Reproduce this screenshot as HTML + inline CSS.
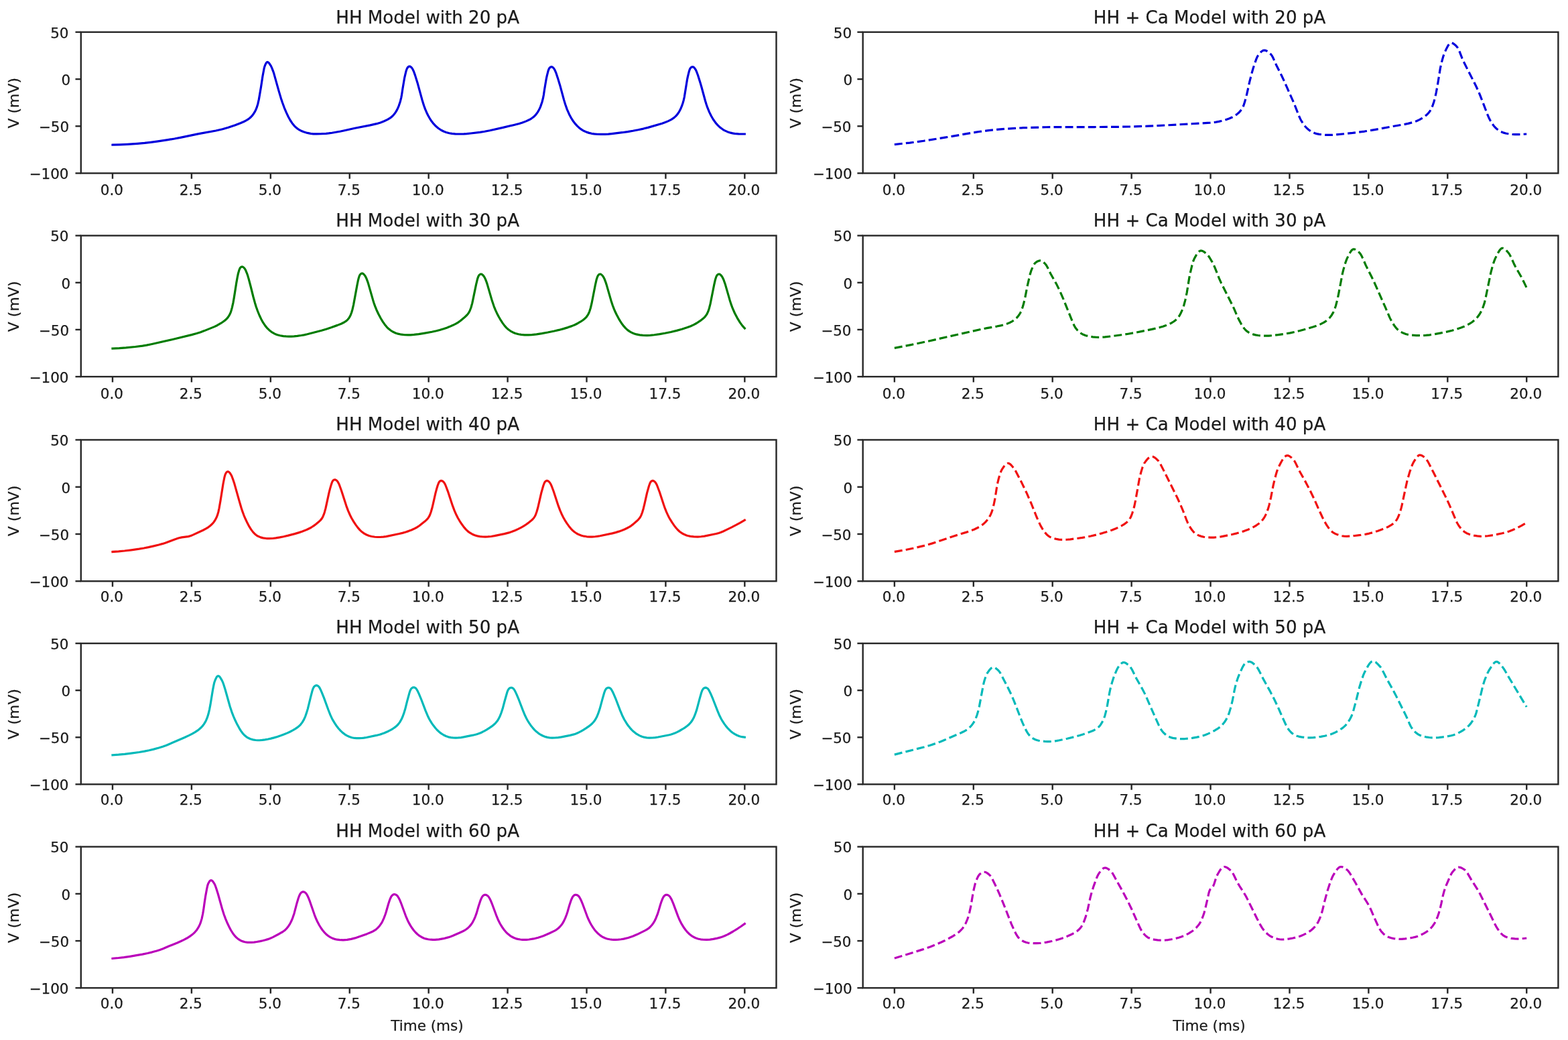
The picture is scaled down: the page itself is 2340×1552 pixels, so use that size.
<!DOCTYPE html><html><head><meta charset="utf-8"><style>html,body{margin:0;padding:0;background:#fff;}svg{display:block;}</style></head><body>
<svg xmlns="http://www.w3.org/2000/svg" width="2340" height="1552" viewBox="0 0 2340 1552" font-family="'DejaVu Sans', 'Liberation Sans', sans-serif" fill="#1a1a1a" stroke="#1a1a1a" stroke-width="0.25" >
<rect width="2340" height="1552" fill="#fff" stroke="none"/>
<path d="M167.97,216.22 L178.96,215.87 L189.95,215.31 L204.91,214.29 L215.87,213.36 L224.82,212.36 L235.72,210.90 L250.55,208.65 L260.41,206.99 L270.22,205.08 L296.65,199.57 L322.24,194.96 L332.00,192.78 L340.64,190.29 L351.05,186.75 L359.43,183.46 L364.00,181.45 L366.69,180.13 L369.28,178.65 L371.72,176.96 L373.98,175.03 L376.05,172.89 L377.91,170.56 L380.07,167.23 L381.46,164.59 L383.01,160.92 L384.78,155.20 L386.33,148.38 L389.52,129.65 L391.95,113.83 L394.14,102.04 L394.94,99.15 L396.43,95.44 L397.39,93.72 L398.01,93.04 L398.77,92.67 L399.59,92.72 L400.38,93.13 L401.10,93.78 L402.35,95.32 L404.49,98.69 L406.13,102.33 L407.55,106.07 L408.82,109.86 L416.10,135.86 L419.24,146.40 L421.42,153.06 L424.18,160.56 L427.27,167.94 L430.26,174.26 L433.16,179.50 L435.91,183.67 L439.02,187.55 L441.86,190.32 L443.40,191.57 L445.84,193.28 L449.31,195.21 L453.92,197.06 L458.72,198.42 L463.61,199.38 L467.57,199.79 L472.56,199.91 L479.56,199.72 L486.54,199.31 L490.52,198.94 L495.47,198.27 L508.27,195.99 L514.14,194.77 L529.74,191.20 L552.33,186.87 L562.07,184.66 L567.81,182.92 L573.40,180.77 L577.92,178.66 L582.18,176.12 L584.54,174.30 L586.00,172.96 L588.01,170.77 L589.80,168.40 L591.41,165.89 L592.84,163.27 L595.23,157.77 L597.42,151.13 L598.84,145.31 L599.57,141.37 L600.89,132.47 L603.37,117.68 L604.18,113.76 L606.07,105.99 L607.01,103.15 L607.90,101.37 L609.15,99.87 L609.94,99.35 L610.81,99.07 L611.71,99.11 L612.58,99.45 L614.09,100.68 L615.81,103.12 L617.51,106.73 L619.51,112.38 L623.36,124.80 L629.94,148.92 L632.59,157.52 L634.65,163.15 L636.61,167.74 L638.80,172.23 L641.24,176.59 L643.97,180.77 L647.03,184.70 L650.47,188.31 L654.26,191.53 L658.40,194.27 L661.96,196.04 L665.68,197.44 L670.50,198.72 L674.43,199.38 L679.40,199.83 L685.39,199.98 L692.38,199.85 L696.37,199.59 L702.34,198.98 L716.24,197.33 L723.16,196.29 L731.00,194.73 L750.52,190.36 L766.09,186.69 L774.81,184.49 L779.59,183.02 L785.18,180.88 L789.71,178.78 L793.16,176.79 L795.57,175.07 L797.08,173.78 L799.17,171.67 L801.04,169.35 L802.71,166.88 L804.20,164.30 L805.52,161.61 L806.69,158.86 L808.96,152.24 L810.46,146.43 L811.38,141.52 L812.55,133.61 L815.22,117.83 L816.05,113.92 L817.97,106.16 L818.98,103.34 L819.94,101.61 L820.57,100.86 L821.31,100.24 L822.15,99.83 L823.05,99.71 L823.94,99.92 L824.78,100.38 L825.53,101.00 L826.80,102.52 L828.30,105.11 L829.84,108.80 L832.36,116.39 L835.58,126.91 L841.61,149.10 L843.62,155.81 L846.30,163.34 L849.52,170.65 L851.84,175.07 L853.90,178.50 L856.14,181.80 L858.61,184.93 L861.31,187.86 L863.49,189.91 L866.59,192.40 L869.06,194.07 L871.66,195.53 L875.30,197.13 L879.08,198.38 L882.96,199.31 L886.90,199.91 L890.88,200.25 L896.87,200.42 L902.86,200.35 L907.85,200.06 L912.82,199.57 L928.71,197.71 L936.64,196.60 L944.52,195.27 L952.38,193.76 L960.20,192.07 L966.99,190.37 L988.09,184.19 L992.80,182.54 L997.41,180.62 L1001.85,178.36 L1005.18,176.20 L1008.19,173.63 L1009.55,172.19 L1011.42,169.88 L1013.61,166.56 L1015.48,163.04 L1017.43,158.45 L1019.05,153.72 L1020.15,149.88 L1021.25,145.00 L1025.59,118.36 L1026.40,114.44 L1028.29,106.67 L1029.23,103.83 L1030.11,102.05 L1031.36,100.55 L1032.15,100.02 L1033.03,99.74 L1033.93,99.77 L1034.80,100.11 L1036.31,101.33 L1038.04,103.76 L1039.37,106.44 L1041.44,112.07 L1045.05,123.52 L1046.74,129.27 L1052.52,150.50 L1054.29,156.23 L1055.94,160.95 L1058.59,167.42 L1061.23,172.80 L1064.24,177.98 L1067.68,182.88 L1069.59,185.18 L1071.64,187.36 L1073.81,189.41 L1076.12,191.31 L1078.54,193.04 L1081.10,194.58 L1085.61,196.65 L1090.35,198.17 L1093.27,198.84 L1096.22,199.33 L1102.17,199.86 L1111.33,200.00" fill="none" stroke="#0000dc" stroke-width="3.2" stroke-linejoin="round" stroke-linecap="square"/>
<rect x="120.80" y="47.90" width="1037.70" height="210.60" fill="none" stroke="#262626" stroke-width="2.4"/>
<line x1="112.50" y1="258.50" x2="120.80" y2="258.50" stroke="#262626" stroke-width="2.4"/>
<text x="102.50" y="267.30" font-size="21.5" text-anchor="end">−100</text>
<line x1="112.50" y1="188.30" x2="120.80" y2="188.30" stroke="#262626" stroke-width="2.4"/>
<text x="103.20" y="197.10" font-size="21.5" text-anchor="end">−50</text>
<line x1="112.50" y1="118.10" x2="120.80" y2="118.10" stroke="#262626" stroke-width="2.4"/>
<text x="105.10" y="126.90" font-size="21.5" text-anchor="end">0</text>
<line x1="112.50" y1="47.90" x2="120.80" y2="47.90" stroke="#262626" stroke-width="2.4"/>
<text x="102.50" y="56.70" font-size="21.5" text-anchor="end">50</text>
<line x1="167.97" y1="258.50" x2="167.97" y2="266.80" stroke="#262626" stroke-width="2.4"/>
<text x="166.97" y="290.50" font-size="21.5" text-anchor="middle">0.0</text>
<line x1="285.89" y1="258.50" x2="285.89" y2="266.80" stroke="#262626" stroke-width="2.4"/>
<text x="284.89" y="290.50" font-size="21.5" text-anchor="middle">2.5</text>
<line x1="403.81" y1="258.50" x2="403.81" y2="266.80" stroke="#262626" stroke-width="2.4"/>
<text x="402.81" y="290.50" font-size="21.5" text-anchor="middle">5.0</text>
<line x1="521.73" y1="258.50" x2="521.73" y2="266.80" stroke="#262626" stroke-width="2.4"/>
<text x="520.73" y="290.50" font-size="21.5" text-anchor="middle">7.5</text>
<line x1="639.65" y1="258.50" x2="639.65" y2="266.80" stroke="#262626" stroke-width="2.4"/>
<text x="638.65" y="290.50" font-size="21.5" text-anchor="middle">10.0</text>
<line x1="757.57" y1="258.50" x2="757.57" y2="266.80" stroke="#262626" stroke-width="2.4"/>
<text x="756.57" y="290.50" font-size="21.5" text-anchor="middle">12.5</text>
<line x1="875.49" y1="258.50" x2="875.49" y2="266.80" stroke="#262626" stroke-width="2.4"/>
<text x="874.49" y="290.50" font-size="21.5" text-anchor="middle">15.0</text>
<line x1="993.41" y1="258.50" x2="993.41" y2="266.80" stroke="#262626" stroke-width="2.4"/>
<text x="992.41" y="290.50" font-size="21.5" text-anchor="middle">17.5</text>
<line x1="1111.33" y1="258.50" x2="1111.33" y2="266.80" stroke="#262626" stroke-width="2.4"/>
<text x="1110.33" y="290.50" font-size="21.5" text-anchor="middle">20.0</text>
<text transform="translate(27.70,153.70) rotate(-90)" font-size="22.0" text-anchor="middle">V (mV)</text>
<text x="638.15" y="34.70" font-size="26.1" text-anchor="middle">HH Model with 20 pA</text>
<path d="M1334.87,215.56 L1357.73,213.04 L1378.54,210.24 L1410.14,205.19 L1455.48,197.42 L1464.37,196.04 L1473.30,194.90 L1483.24,193.79 L1501.17,192.23 L1515.14,191.33 L1527.12,190.72 L1561.11,189.75 L1576.11,189.57 L1633.11,189.54 L1669.10,189.32 L1688.10,188.96 L1714.09,188.15 L1739.06,186.98 L1805.95,183.16 L1810.93,182.70 L1814.88,182.16 L1818.81,181.43 L1822.70,180.52 L1828.48,178.90 L1834.15,176.97 L1838.72,174.99 L1842.22,173.08 L1845.53,170.87 L1848.56,168.31 L1851.25,165.40 L1853.55,162.17 L1854.54,160.45 L1855.78,157.74 L1857.64,152.05 L1860.73,140.45 L1864.83,121.90 L1868.04,109.30 L1870.54,100.66 L1874.75,88.36 L1875.90,85.59 L1877.32,82.96 L1878.49,81.34 L1880.41,79.04 L1882.53,76.93 L1884.15,75.78 L1885.04,75.36 L1885.98,75.11 L1886.94,75.03 L1887.92,75.14 L1889.79,75.76 L1891.51,76.75 L1893.12,77.93 L1895.38,79.91 L1896.79,81.32 L1898.02,82.88 L1899.51,85.48 L1905.25,98.24 L1912.45,112.53 L1916.70,121.58 L1931.67,155.42 L1938.93,174.05 L1940.63,177.66 L1942.56,181.15 L1945.85,186.15 L1947.69,188.50 L1949.69,190.71 L1951.13,192.08 L1953.43,193.96 L1955.89,195.65 L1958.47,197.14 L1962.10,198.74 L1964.94,199.60 L1968.84,200.38 L1972.80,200.89 L1977.78,201.30 L1982.77,201.47 L1987.76,201.38 L1993.75,201.01 L2018.61,198.39 L2036.45,196.04 L2051.26,193.60 L2077.81,188.70 L2093.57,185.96 L2101.41,184.39 L2108.18,182.65 L2113.84,180.70 L2118.37,178.62 L2123.55,175.62 L2126.01,173.92 L2128.34,172.06 L2130.51,170.02 L2131.85,168.56 L2133.67,166.21 L2134.76,164.55 L2136.60,161.03 L2138.10,157.33 L2139.97,151.64 L2141.84,144.89 L2143.27,138.04 L2145.78,124.27 L2149.45,101.56 L2151.46,92.79 L2153.57,85.08 L2154.81,81.27 L2156.28,77.55 L2158.86,72.14 L2160.74,68.61 L2161.80,66.92 L2163.04,65.37 L2163.77,64.72 L2164.59,64.24 L2165.50,64.00 L2166.45,64.02 L2168.29,64.65 L2170.74,66.36 L2172.21,67.71 L2174.28,69.88 L2175.47,71.47 L2176.46,73.20 L2178.10,76.85 L2182.08,87.10 L2184.13,91.66 L2188.56,100.63 L2201.75,126.45 L2205.61,134.58 L2209.07,142.89 L2214.87,157.80 L2219.44,169.97 L2221.78,175.49 L2223.58,179.05 L2225.59,182.50 L2227.80,185.82 L2229.61,188.19 L2231.59,190.41 L2233.03,191.78 L2234.55,193.04 L2236.99,194.74 L2239.58,196.22 L2242.28,197.46 L2244.14,198.14 L2247.01,198.95 L2249.94,199.52 L2252.90,199.93 L2256.88,200.32 L2260.87,200.54 L2268.86,200.55 L2278.23,200.00" fill="none" stroke="#0000dc" stroke-width="3.2" stroke-linejoin="round" stroke-linecap="butt" stroke-dasharray="11.9 5.2"/>
<rect x="1287.70" y="47.90" width="1037.70" height="210.60" fill="none" stroke="#262626" stroke-width="2.4"/>
<line x1="1279.40" y1="258.50" x2="1287.70" y2="258.50" stroke="#262626" stroke-width="2.4"/>
<text x="1271.70" y="267.30" font-size="21.5" text-anchor="end">−100</text>
<line x1="1279.40" y1="188.30" x2="1287.70" y2="188.30" stroke="#262626" stroke-width="2.4"/>
<text x="1270.50" y="197.10" font-size="21.5" text-anchor="end">−50</text>
<line x1="1279.40" y1="118.10" x2="1287.70" y2="118.10" stroke="#262626" stroke-width="2.4"/>
<text x="1272.30" y="126.90" font-size="21.5" text-anchor="end">0</text>
<line x1="1279.40" y1="47.90" x2="1287.70" y2="47.90" stroke="#262626" stroke-width="2.4"/>
<text x="1271.20" y="56.70" font-size="21.5" text-anchor="end">50</text>
<line x1="1334.87" y1="258.50" x2="1334.87" y2="266.80" stroke="#262626" stroke-width="2.4"/>
<text x="1333.87" y="290.50" font-size="21.5" text-anchor="middle">0.0</text>
<line x1="1452.79" y1="258.50" x2="1452.79" y2="266.80" stroke="#262626" stroke-width="2.4"/>
<text x="1451.79" y="290.50" font-size="21.5" text-anchor="middle">2.5</text>
<line x1="1570.71" y1="258.50" x2="1570.71" y2="266.80" stroke="#262626" stroke-width="2.4"/>
<text x="1569.71" y="290.50" font-size="21.5" text-anchor="middle">5.0</text>
<line x1="1688.63" y1="258.50" x2="1688.63" y2="266.80" stroke="#262626" stroke-width="2.4"/>
<text x="1687.63" y="290.50" font-size="21.5" text-anchor="middle">7.5</text>
<line x1="1806.55" y1="258.50" x2="1806.55" y2="266.80" stroke="#262626" stroke-width="2.4"/>
<text x="1805.55" y="290.50" font-size="21.5" text-anchor="middle">10.0</text>
<line x1="1924.47" y1="258.50" x2="1924.47" y2="266.80" stroke="#262626" stroke-width="2.4"/>
<text x="1923.47" y="290.50" font-size="21.5" text-anchor="middle">12.5</text>
<line x1="2042.39" y1="258.50" x2="2042.39" y2="266.80" stroke="#262626" stroke-width="2.4"/>
<text x="2041.39" y="290.50" font-size="21.5" text-anchor="middle">15.0</text>
<line x1="2160.31" y1="258.50" x2="2160.31" y2="266.80" stroke="#262626" stroke-width="2.4"/>
<text x="2159.31" y="290.50" font-size="21.5" text-anchor="middle">17.5</text>
<line x1="2278.23" y1="258.50" x2="2278.23" y2="266.80" stroke="#262626" stroke-width="2.4"/>
<text x="2277.23" y="290.50" font-size="21.5" text-anchor="middle">20.0</text>
<text transform="translate(1195.40,153.70) rotate(-90)" font-size="22.0" text-anchor="middle">V (mV)</text>
<text x="1805.05" y="34.70" font-size="26.1" text-anchor="middle">HH + Ca Model with 20 pA</text>
<path d="M167.97,520.00 L177.96,519.60 L187.93,518.88 L201.86,517.47 L212.77,516.09 L218.69,515.10 L225.55,513.72 L258.73,506.30 L285.91,499.60 L293.63,497.48 L299.35,495.69 L304.98,493.62 L319.81,487.63 L324.31,485.47 L329.49,482.47 L332.81,480.25 L335.21,478.47 L337.46,476.52 L338.85,475.11 L340.12,473.60 L341.79,471.16 L343.20,468.55 L344.34,465.80 L345.27,462.95 L346.31,459.09 L348.04,451.28 L349.27,444.39 L352.67,422.66 L354.46,412.82 L355.49,407.93 L356.89,403.13 L358.01,400.37 L358.54,399.55 L359.21,398.86 L360.02,398.36 L360.91,398.09 L361.82,398.11 L362.68,398.45 L363.47,399.01 L364.83,400.44 L366.43,402.96 L368.38,407.56 L369.72,411.33 L371.12,416.12 L373.93,426.76 L378.05,443.25 L380.44,451.93 L382.21,457.66 L384.54,464.26 L387.19,470.74 L389.75,476.16 L392.64,481.40 L396.00,486.35 L399.21,490.16 L402.83,493.56 L406.03,495.92 L409.48,497.88 L411.29,498.70 L414.08,499.73 L417.92,500.77 L422.84,501.59 L426.81,501.94 L430.81,502.10 L434.80,502.09 L438.79,501.88 L443.76,501.38 L449.70,500.54 L453.63,499.83 L458.51,498.75 L479.80,493.21 L487.47,490.93 L494.12,488.75 L503.53,485.38 L509.11,483.20 L513.58,481.02 L516.86,478.82 L519.01,476.83 L520.27,475.33 L521.37,473.70 L523.19,470.19 L524.61,466.48 L526.00,461.68 L527.57,454.86 L532.81,426.34 L534.18,419.48 L535.11,415.59 L536.33,411.78 L537.24,410.03 L538.56,408.60 L539.38,408.13 L540.25,407.94 L541.14,408.10 L541.98,408.53 L543.46,409.83 L545.21,412.25 L546.98,415.82 L548.39,419.57 L549.65,423.36 L556.53,447.40 L558.02,452.17 L559.67,456.89 L561.91,462.45 L564.87,468.79 L568.18,474.96 L571.29,480.08 L574.12,484.19 L577.29,488.03 L580.13,490.81 L583.26,493.25 L586.66,495.31 L590.27,496.95 L594.05,498.19 L598.92,499.21 L603.88,499.73 L608.87,499.90 L612.86,499.83 L617.84,499.45 L624.78,498.57 L632.68,497.32 L644.49,495.20 L651.34,493.75 L656.18,492.52 L661.92,490.80 L666.65,489.17 L671.30,487.35 L675.87,485.33 L680.34,483.10 L683.77,481.07 L687.04,478.79 L692.44,474.35 L696.77,470.25 L698.06,468.76 L699.23,467.17 L701.13,463.70 L702.92,459.05 L704.78,452.31 L710.47,424.90 L712.57,416.15 L713.92,412.39 L714.95,410.71 L715.62,410.01 L716.40,409.44 L717.26,409.10 L718.16,409.06 L719.04,409.35 L719.86,409.86 L721.29,411.22 L722.99,413.68 L724.33,416.36 L725.79,420.08 L727.08,423.87 L734.33,448.83 L737.21,457.36 L739.47,462.91 L741.57,467.45 L744.33,472.77 L747.35,477.95 L750.07,482.14 L753.06,486.13 L755.73,489.08 L758.68,491.75 L761.91,494.05 L765.40,495.95 L769.08,497.44 L773.88,498.75 L777.80,499.40 L782.78,499.80 L788.77,499.89 L793.75,499.62 L800.70,498.82 L808.61,497.64 L817.47,496.04 L827.26,494.02 L834.08,492.43 L840.84,490.64 L847.54,488.61 L853.20,486.63 L857.81,484.71 L862.28,482.49 L866.59,479.97 L869.89,477.73 L872.97,475.23 L874.37,473.84 L875.65,472.35 L877.80,469.05 L878.68,467.28 L879.80,464.51 L881.30,459.75 L882.96,452.95 L888.12,426.45 L890.31,416.70 L891.57,412.91 L892.48,411.15 L893.81,409.73 L894.62,409.25 L895.50,409.05 L896.40,409.18 L897.24,409.60 L898.74,410.87 L900.50,413.27 L902.29,416.84 L903.71,420.58 L904.98,424.37 L911.89,448.40 L914.37,456.01 L916.15,460.68 L918.12,465.27 L920.29,469.77 L923.12,475.06 L925.68,479.35 L928.43,483.51 L930.84,486.69 L933.49,489.66 L936.43,492.33 L939.65,494.65 L942.24,496.13 L945.87,497.73 L949.66,498.93 L954.54,499.93 L959.50,500.41 L965.49,500.57 L970.48,500.37 L976.44,499.74 L984.36,498.63 L992.24,497.25 L1001.05,495.45 L1009.81,493.39 L1017.53,491.27 L1025.14,488.82 L1030.75,486.70 L1035.29,484.64 L1039.66,482.23 L1044.68,478.96 L1049.41,475.30 L1052.22,472.53 L1054.55,469.36 L1055.51,467.63 L1056.73,464.92 L1058.34,460.19 L1060.07,453.42 L1065.51,425.95 L1067.49,417.17 L1068.70,413.36 L1069.53,411.56 L1070.76,410.04 L1071.53,409.46 L1072.38,409.11 L1073.28,409.07 L1074.15,409.35 L1074.97,409.87 L1076.40,411.23 L1078.09,413.69 L1079.82,417.29 L1082.47,424.84 L1089.11,447.90 L1090.91,453.62 L1093.34,460.19 L1096.57,467.50 L1100.28,474.58 L1104.44,481.40 L1107.92,486.16 L1111.33,489.91" fill="none" stroke="#007c00" stroke-width="3.2" stroke-linejoin="round" stroke-linecap="square"/>
<rect x="120.80" y="351.60" width="1037.70" height="210.50" fill="none" stroke="#262626" stroke-width="2.4"/>
<line x1="112.50" y1="562.10" x2="120.80" y2="562.10" stroke="#262626" stroke-width="2.4"/>
<text x="102.50" y="570.90" font-size="21.5" text-anchor="end">−100</text>
<line x1="112.50" y1="491.93" x2="120.80" y2="491.93" stroke="#262626" stroke-width="2.4"/>
<text x="103.20" y="500.73" font-size="21.5" text-anchor="end">−50</text>
<line x1="112.50" y1="421.77" x2="120.80" y2="421.77" stroke="#262626" stroke-width="2.4"/>
<text x="105.10" y="430.57" font-size="21.5" text-anchor="end">0</text>
<line x1="112.50" y1="351.60" x2="120.80" y2="351.60" stroke="#262626" stroke-width="2.4"/>
<text x="102.50" y="360.40" font-size="21.5" text-anchor="end">50</text>
<line x1="167.97" y1="562.10" x2="167.97" y2="570.40" stroke="#262626" stroke-width="2.4"/>
<text x="166.97" y="594.50" font-size="21.5" text-anchor="middle">0.0</text>
<line x1="285.89" y1="562.10" x2="285.89" y2="570.40" stroke="#262626" stroke-width="2.4"/>
<text x="284.89" y="594.50" font-size="21.5" text-anchor="middle">2.5</text>
<line x1="403.81" y1="562.10" x2="403.81" y2="570.40" stroke="#262626" stroke-width="2.4"/>
<text x="402.81" y="594.50" font-size="21.5" text-anchor="middle">5.0</text>
<line x1="521.73" y1="562.10" x2="521.73" y2="570.40" stroke="#262626" stroke-width="2.4"/>
<text x="520.73" y="594.50" font-size="21.5" text-anchor="middle">7.5</text>
<line x1="639.65" y1="562.10" x2="639.65" y2="570.40" stroke="#262626" stroke-width="2.4"/>
<text x="638.65" y="594.50" font-size="21.5" text-anchor="middle">10.0</text>
<line x1="757.57" y1="562.10" x2="757.57" y2="570.40" stroke="#262626" stroke-width="2.4"/>
<text x="756.57" y="594.50" font-size="21.5" text-anchor="middle">12.5</text>
<line x1="875.49" y1="562.10" x2="875.49" y2="570.40" stroke="#262626" stroke-width="2.4"/>
<text x="874.49" y="594.50" font-size="21.5" text-anchor="middle">15.0</text>
<line x1="993.41" y1="562.10" x2="993.41" y2="570.40" stroke="#262626" stroke-width="2.4"/>
<text x="992.41" y="594.50" font-size="21.5" text-anchor="middle">17.5</text>
<line x1="1111.33" y1="562.10" x2="1111.33" y2="570.40" stroke="#262626" stroke-width="2.4"/>
<text x="1110.33" y="594.50" font-size="21.5" text-anchor="middle">20.0</text>
<text transform="translate(27.70,457.35) rotate(-90)" font-size="22.0" text-anchor="middle">V (mV)</text>
<text x="638.15" y="337.90" font-size="26.1" text-anchor="middle">HH Model with 30 pA</text>
<path d="M1334.87,519.44 L1359.40,514.61 L1383.86,509.48 L1464.82,491.20 L1472.67,489.63 L1487.44,487.05 L1493.32,485.85 L1498.17,484.64 L1502.92,483.13 L1507.51,481.20 L1511.00,479.29 L1513.48,477.63 L1515.79,475.75 L1517.22,474.38 L1519.18,472.15 L1520.95,469.75 L1522.52,467.22 L1523.88,464.56 L1525.02,461.80 L1526.83,456.09 L1529.34,446.41 L1532.98,427.76 L1536.97,410.21 L1538.69,404.47 L1541.37,398.00 L1543.24,394.47 L1544.41,392.86 L1545.10,392.16 L1546.69,390.97 L1548.43,390.00 L1550.28,389.26 L1552.21,388.91 L1553.19,388.97 L1554.13,389.21 L1555.87,390.13 L1557.42,391.38 L1558.87,392.76 L1560.23,394.22 L1561.43,395.81 L1563.38,399.29 L1567.76,408.28 L1577.08,424.84 L1581.49,433.81 L1587.07,446.65 L1601.59,482.84 L1603.32,486.43 L1605.40,489.80 L1607.91,492.86 L1610.79,495.59 L1613.98,497.92 L1616.59,499.32 L1620.29,500.71 L1625.13,501.88 L1631.04,502.83 L1636.01,503.25 L1642.00,503.30 L1648.98,502.87 L1656.93,501.98 L1673.78,499.73 L1683.67,498.21 L1693.51,496.48 L1704.31,494.39 L1719.00,491.36 L1725.83,489.82 L1730.68,488.59 L1735.47,487.18 L1740.19,485.55 L1744.81,483.65 L1748.37,481.85 L1751.75,479.76 L1754.13,477.97 L1756.32,475.97 L1757.65,474.51 L1759.42,472.13 L1760.97,469.59 L1762.35,466.93 L1763.98,463.29 L1765.45,459.57 L1766.73,455.78 L1768.76,448.05 L1771.28,436.32 L1774.62,415.59 L1775.74,409.69 L1778.65,397.02 L1779.68,393.16 L1780.89,389.35 L1782.02,386.57 L1783.40,383.91 L1785.38,380.44 L1787.03,377.94 L1788.28,376.38 L1789.73,375.03 L1790.56,374.52 L1791.46,374.18 L1792.41,374.06 L1793.37,374.16 L1794.31,374.44 L1796.08,375.34 L1798.47,377.14 L1802.14,380.52 L1803.44,382.04 L1805.17,384.49 L1809.23,391.38 L1811.08,394.92 L1812.73,398.57 L1819.34,415.31 L1822.60,422.61 L1839.70,456.54 L1841.82,461.07 L1846.55,472.10 L1848.65,476.63 L1851.96,482.79 L1855.11,487.88 L1856.86,490.29 L1858.82,492.51 L1861.05,494.44 L1863.51,496.06 L1866.16,497.42 L1869.86,498.86 L1873.70,499.88 L1877.63,500.51 L1882.60,500.94 L1888.59,501.14 L1893.59,501.05 L1899.57,500.63 L1907.51,499.67 L1918.39,498.04 L1925.28,496.83 L1932.13,495.41 L1939.91,493.53 L1948.59,491.16 L1959.12,488.00 L1965.75,485.75 L1970.37,483.87 L1974.85,481.67 L1978.24,479.60 L1981.38,477.17 L1984.19,474.37 L1987.21,470.43 L1989.77,466.16 L1990.64,464.37 L1991.76,461.60 L1993.56,455.88 L1996.06,446.20 L1997.48,439.35 L2003.51,407.92 L2004.92,402.09 L2007.12,394.40 L2008.36,390.59 L2009.77,386.85 L2011.01,384.12 L2013.76,378.79 L2015.25,376.19 L2016.97,373.75 L2018.42,372.43 L2019.28,372.03 L2020.21,371.86 L2021.17,371.94 L2022.11,372.20 L2023.88,373.08 L2025.51,374.23 L2027.77,376.19 L2029.18,377.61 L2030.41,379.18 L2031.92,381.76 L2033.65,385.37 L2038.47,396.35 L2047.03,413.32 L2051.34,422.34 L2067.53,458.92 L2073.82,473.62 L2076.05,478.09 L2079.08,483.26 L2081.30,486.58 L2083.75,489.71 L2085.81,491.84 L2088.11,493.70 L2090.61,495.31 L2094.15,497.09 L2097.87,498.48 L2100.75,499.24 L2105.67,500.00 L2113.64,500.56 L2120.64,500.71 L2127.63,500.42 L2133.59,499.80 L2139.52,498.91 L2149.35,497.10 L2160.13,494.91 L2166.94,493.28 L2173.67,491.36 L2180.29,489.10 L2185.85,486.86 L2190.35,484.71 L2193.81,482.73 L2197.10,480.48 L2200.94,477.31 L2203.08,475.22 L2205.08,473.00 L2208.01,468.99 L2209.52,466.41 L2210.87,463.74 L2213.57,457.29 L2215.18,452.56 L2216.63,446.74 L2224.89,406.58 L2226.68,399.82 L2228.67,393.11 L2229.95,389.32 L2231.43,385.60 L2235.50,377.58 L2237.00,374.98 L2238.72,372.53 L2240.13,371.15 L2240.95,370.65 L2241.85,370.37 L2242.80,370.34 L2243.73,370.56 L2245.46,371.49 L2246.99,372.76 L2249.07,374.91 L2251.04,377.18 L2252.77,379.62 L2255.08,384.05 L2259.15,393.18 L2260.89,396.78 L2270.27,413.30 L2274.36,421.32 L2278.23,429.44" fill="none" stroke="#007c00" stroke-width="3.2" stroke-linejoin="round" stroke-linecap="butt" stroke-dasharray="11.9 5.2"/>
<rect x="1287.70" y="351.60" width="1037.70" height="210.50" fill="none" stroke="#262626" stroke-width="2.4"/>
<line x1="1279.40" y1="562.10" x2="1287.70" y2="562.10" stroke="#262626" stroke-width="2.4"/>
<text x="1271.70" y="570.90" font-size="21.5" text-anchor="end">−100</text>
<line x1="1279.40" y1="491.93" x2="1287.70" y2="491.93" stroke="#262626" stroke-width="2.4"/>
<text x="1270.50" y="500.73" font-size="21.5" text-anchor="end">−50</text>
<line x1="1279.40" y1="421.77" x2="1287.70" y2="421.77" stroke="#262626" stroke-width="2.4"/>
<text x="1272.30" y="430.57" font-size="21.5" text-anchor="end">0</text>
<line x1="1279.40" y1="351.60" x2="1287.70" y2="351.60" stroke="#262626" stroke-width="2.4"/>
<text x="1271.20" y="360.40" font-size="21.5" text-anchor="end">50</text>
<line x1="1334.87" y1="562.10" x2="1334.87" y2="570.40" stroke="#262626" stroke-width="2.4"/>
<text x="1333.87" y="594.50" font-size="21.5" text-anchor="middle">0.0</text>
<line x1="1452.79" y1="562.10" x2="1452.79" y2="570.40" stroke="#262626" stroke-width="2.4"/>
<text x="1451.79" y="594.50" font-size="21.5" text-anchor="middle">2.5</text>
<line x1="1570.71" y1="562.10" x2="1570.71" y2="570.40" stroke="#262626" stroke-width="2.4"/>
<text x="1569.71" y="594.50" font-size="21.5" text-anchor="middle">5.0</text>
<line x1="1688.63" y1="562.10" x2="1688.63" y2="570.40" stroke="#262626" stroke-width="2.4"/>
<text x="1687.63" y="594.50" font-size="21.5" text-anchor="middle">7.5</text>
<line x1="1806.55" y1="562.10" x2="1806.55" y2="570.40" stroke="#262626" stroke-width="2.4"/>
<text x="1805.55" y="594.50" font-size="21.5" text-anchor="middle">10.0</text>
<line x1="1924.47" y1="562.10" x2="1924.47" y2="570.40" stroke="#262626" stroke-width="2.4"/>
<text x="1923.47" y="594.50" font-size="21.5" text-anchor="middle">12.5</text>
<line x1="2042.39" y1="562.10" x2="2042.39" y2="570.40" stroke="#262626" stroke-width="2.4"/>
<text x="2041.39" y="594.50" font-size="21.5" text-anchor="middle">15.0</text>
<line x1="2160.31" y1="562.10" x2="2160.31" y2="570.40" stroke="#262626" stroke-width="2.4"/>
<text x="2159.31" y="594.50" font-size="21.5" text-anchor="middle">17.5</text>
<line x1="2278.23" y1="562.10" x2="2278.23" y2="570.40" stroke="#262626" stroke-width="2.4"/>
<text x="2277.23" y="594.50" font-size="21.5" text-anchor="middle">20.0</text>
<text transform="translate(1195.40,457.35) rotate(-90)" font-size="22.0" text-anchor="middle">V (mV)</text>
<text x="1805.05" y="337.90" font-size="26.1" text-anchor="middle">HH + Ca Model with 30 pA</text>
<path d="M167.97,823.44 L176.95,822.84 L185.91,821.99 L195.84,820.81 L207.72,819.15 L214.63,818.02 L221.49,816.67 L228.32,815.13 L237.06,812.98 L242.85,811.41 L246.66,810.22 L260.68,804.90 L266.37,803.02 L271.22,801.91 L281.07,800.59 L284.86,799.52 L287.61,798.38 L303.02,791.26 L307.43,788.93 L310.81,786.80 L313.20,785.02 L315.45,783.07 L317.52,780.93 L318.79,779.40 L320.50,776.97 L322.01,774.39 L323.31,771.71 L324.40,768.92 L325.84,764.15 L327.08,758.28 L328.98,747.45 L333.05,721.77 L334.80,712.94 L335.79,709.07 L336.49,707.21 L337.49,705.50 L338.11,704.73 L338.83,704.11 L339.64,703.74 L340.50,703.75 L341.32,704.11 L342.73,705.45 L343.92,707.05 L344.98,708.74 L346.24,711.45 L347.95,716.15 L349.83,721.85 L356.87,746.88 L359.97,757.43 L361.80,763.14 L363.89,768.77 L366.22,774.29 L369.21,780.62 L372.04,785.91 L374.69,790.13 L377.69,794.10 L380.43,796.96 L382.74,798.80 L385.27,800.33 L388.90,801.87 L392.73,802.86 L397.66,803.53 L401.65,803.71 L406.63,803.51 L411.58,802.90 L417.49,801.90 L423.38,800.74 L430.19,799.15 L439.86,796.60 L446.58,794.62 L451.31,793.03 L455.05,791.61 L458.71,790.02 L462.29,788.25 L464.89,786.77 L468.24,784.60 L471.45,782.22 L475.32,779.08 L478.20,776.37 L480.08,774.11 L481.60,771.59 L483.17,767.95 L484.42,764.15 L485.99,758.37 L491.11,734.92 L492.60,729.11 L494.26,723.34 L495.60,719.58 L496.50,717.82 L497.11,717.06 L497.84,716.42 L498.68,715.98 L499.57,715.80 L500.48,715.94 L501.35,716.34 L502.88,717.57 L504.13,719.11 L505.59,721.72 L507.09,725.43 L509.47,732.01 L516.81,754.86 L519.61,762.35 L522.43,768.75 L524.69,773.21 L527.72,778.38 L531.01,783.39 L533.98,787.40 L537.27,791.14 L540.20,793.82 L543.43,796.12 L546.92,798.01 L550.61,799.48 L554.44,800.53 L559.36,801.27 L563.34,801.51 L567.33,801.49 L572.31,801.14 L576.27,800.61 L595.84,796.55 L600.69,795.35 L605.49,793.95 L610.22,792.36 L613.95,790.92 L617.61,789.33 L621.16,787.51 L623.72,785.96 L626.18,784.26 L634.01,778.06 L636.93,775.40 L638.88,773.20 L640.47,770.72 L641.72,768.03 L643.08,764.28 L644.75,758.52 L646.40,751.72 L649.88,736.10 L651.42,730.30 L653.15,724.56 L654.56,720.82 L655.52,719.10 L656.18,718.38 L656.95,717.81 L657.82,717.44 L658.73,717.36 L659.63,717.58 L660.48,718.03 L661.99,719.30 L663.21,720.87 L664.65,723.49 L668.23,732.82 L675.42,754.67 L678.23,762.16 L681.08,768.55 L683.35,773.00 L685.87,777.31 L689.17,782.32 L692.12,786.34 L695.36,790.12 L698.24,792.86 L701.42,795.23 L704.87,797.20 L708.53,798.75 L712.33,799.89 L716.24,800.61 L720.21,800.98 L724.20,801.09 L728.19,800.96 L733.16,800.48 L738.08,799.66 L752.77,796.64 L759.53,794.89 L764.26,793.28 L768.90,791.42 L773.45,789.37 L777.92,787.12 L781.39,785.16 L784.75,783.00 L788.00,780.67 L791.93,777.60 L794.87,774.96 L796.81,772.75 L798.36,770.25 L799.60,767.55 L800.95,763.80 L802.61,758.03 L807.76,735.62 L810.75,725.04 L812.13,721.28 L813.01,719.51 L813.60,718.73 L814.32,718.08 L815.14,717.59 L816.03,717.36 L816.95,717.43 L817.83,717.78 L819.41,718.94 L820.70,720.45 L822.21,723.03 L823.74,726.72 L826.17,733.28 L833.35,755.13 L835.81,761.68 L838.21,767.18 L840.41,771.67 L842.86,776.02 L846.09,781.07 L848.98,785.14 L852.12,789.01 L854.90,791.86 L857.17,793.79 L860.45,796.01 L863.99,797.82 L867.71,799.22 L871.55,800.20 L875.49,800.78 L879.47,801.05 L883.46,801.07 L888.45,800.76 L891.42,800.42 L895.36,799.76 L913.95,795.88 L918.78,794.61 L923.55,793.14 L928.26,791.45 L931.96,789.94 L935.58,788.27 L939.10,786.39 L941.62,784.79 L944.79,782.38 L950.06,777.80 L952.89,775.04 L954.77,772.78 L955.82,771.12 L956.71,769.36 L958.51,764.72 L960.20,758.96 L961.86,752.16 L965.57,735.57 L968.56,724.99 L969.93,721.24 L970.82,719.47 L971.42,718.70 L972.14,718.05 L972.97,717.58 L973.86,717.36 L974.78,717.44 L975.66,717.80 L977.22,718.98 L977.90,719.71 L979.05,721.33 L980.42,723.99 L984.30,734.28 L990.51,753.29 L992.50,758.95 L994.39,763.58 L996.44,768.14 L998.21,771.72 L1000.16,775.21 L1002.79,779.45 L1006.20,784.39 L1008.64,787.54 L1011.29,790.51 L1014.21,793.21 L1016.60,794.98 L1019.14,796.53 L1021.82,797.85 L1024.59,798.93 L1026.49,799.52 L1030.37,800.39 L1035.31,800.95 L1041.30,801.07 L1046.28,800.76 L1051.23,800.11 L1068.84,796.50 L1072.69,795.45 L1075.52,794.47 L1079.21,792.94 L1084.64,790.41 L1091.83,786.90 L1098.05,783.69 L1104.17,780.31 L1111.33,776.11" fill="none" stroke="#f01010" stroke-width="3.2" stroke-linejoin="round" stroke-linecap="square"/>
<rect x="120.80" y="656.40" width="1037.70" height="210.90" fill="none" stroke="#262626" stroke-width="2.4"/>
<line x1="112.50" y1="867.30" x2="120.80" y2="867.30" stroke="#262626" stroke-width="2.4"/>
<text x="102.50" y="876.10" font-size="21.5" text-anchor="end">−100</text>
<line x1="112.50" y1="797.00" x2="120.80" y2="797.00" stroke="#262626" stroke-width="2.4"/>
<text x="103.20" y="805.80" font-size="21.5" text-anchor="end">−50</text>
<line x1="112.50" y1="726.70" x2="120.80" y2="726.70" stroke="#262626" stroke-width="2.4"/>
<text x="105.10" y="735.50" font-size="21.5" text-anchor="end">0</text>
<line x1="112.50" y1="656.40" x2="120.80" y2="656.40" stroke="#262626" stroke-width="2.4"/>
<text x="102.50" y="665.20" font-size="21.5" text-anchor="end">50</text>
<line x1="167.97" y1="867.30" x2="167.97" y2="875.60" stroke="#262626" stroke-width="2.4"/>
<text x="166.97" y="897.70" font-size="21.5" text-anchor="middle">0.0</text>
<line x1="285.89" y1="867.30" x2="285.89" y2="875.60" stroke="#262626" stroke-width="2.4"/>
<text x="284.89" y="897.70" font-size="21.5" text-anchor="middle">2.5</text>
<line x1="403.81" y1="867.30" x2="403.81" y2="875.60" stroke="#262626" stroke-width="2.4"/>
<text x="402.81" y="897.70" font-size="21.5" text-anchor="middle">5.0</text>
<line x1="521.73" y1="867.30" x2="521.73" y2="875.60" stroke="#262626" stroke-width="2.4"/>
<text x="520.73" y="897.70" font-size="21.5" text-anchor="middle">7.5</text>
<line x1="639.65" y1="867.30" x2="639.65" y2="875.60" stroke="#262626" stroke-width="2.4"/>
<text x="638.65" y="897.70" font-size="21.5" text-anchor="middle">10.0</text>
<line x1="757.57" y1="867.30" x2="757.57" y2="875.60" stroke="#262626" stroke-width="2.4"/>
<text x="756.57" y="897.70" font-size="21.5" text-anchor="middle">12.5</text>
<line x1="875.49" y1="867.30" x2="875.49" y2="875.60" stroke="#262626" stroke-width="2.4"/>
<text x="874.49" y="897.70" font-size="21.5" text-anchor="middle">15.0</text>
<line x1="993.41" y1="867.30" x2="993.41" y2="875.60" stroke="#262626" stroke-width="2.4"/>
<text x="992.41" y="897.70" font-size="21.5" text-anchor="middle">17.5</text>
<line x1="1111.33" y1="867.30" x2="1111.33" y2="875.60" stroke="#262626" stroke-width="2.4"/>
<text x="1110.33" y="897.70" font-size="21.5" text-anchor="middle">20.0</text>
<text transform="translate(27.70,762.35) rotate(-90)" font-size="22.0" text-anchor="middle">V (mV)</text>
<text x="638.15" y="641.75" font-size="26.1" text-anchor="middle">HH Model with 40 pA</text>
<path d="M1334.87,823.33 L1348.68,821.06 L1362.40,818.30 L1378.95,814.40 L1390.50,811.14 L1400.01,808.06 L1423.65,799.93 L1441.81,794.37 L1449.38,791.79 L1454.02,789.93 L1458.54,787.81 L1462.88,785.35 L1466.15,783.08 L1468.46,781.19 L1470.64,779.15 L1473.89,775.40 L1475.61,772.96 L1477.14,770.39 L1478.49,767.72 L1479.69,764.98 L1481.31,760.26 L1482.99,753.46 L1485.00,743.67 L1487.59,726.87 L1488.47,721.95 L1490.38,714.18 L1492.36,707.47 L1493.37,704.64 L1494.55,701.89 L1496.04,699.29 L1498.30,695.99 L1500.21,693.68 L1501.68,692.35 L1502.51,691.83 L1503.40,691.46 L1504.34,691.32 L1505.28,691.43 L1506.18,691.77 L1507.02,692.28 L1508.52,693.58 L1510.53,695.80 L1513.07,698.89 L1515.75,703.10 L1525.00,720.83 L1532.34,736.16 L1539.15,751.74 L1546.91,771.25 L1550.55,779.48 L1553.15,784.88 L1556.15,790.06 L1559.68,794.88 L1561.65,797.12 L1563.06,798.51 L1564.57,799.77 L1566.18,800.87 L1568.80,802.21 L1572.53,803.51 L1576.41,804.43 L1580.34,805.06 L1584.32,805.38 L1588.31,805.41 L1592.30,805.23 L1597.28,804.81 L1605.22,803.85 L1615.12,802.43 L1621.03,801.41 L1627.89,800.01 L1636.64,797.93 L1645.33,795.59 L1653.00,793.30 L1659.61,791.02 L1665.18,788.80 L1669.73,786.73 L1675.03,783.95 L1678.41,781.83 L1681.53,779.39 L1683.64,777.30 L1685.48,774.99 L1687.05,772.48 L1688.31,769.79 L1689.70,766.05 L1691.48,760.32 L1692.80,755.50 L1694.80,745.70 L1700.42,714.20 L1702.84,704.50 L1705.18,696.85 L1706.27,694.05 L1707.64,691.40 L1709.93,688.12 L1712.47,685.04 L1714.65,682.99 L1716.31,681.91 L1718.17,681.31 L1719.14,681.26 L1720.11,681.39 L1721.95,682.08 L1723.64,683.13 L1725.96,685.02 L1728.79,687.84 L1729.96,689.46 L1731.49,692.04 L1740.14,708.95 L1757.03,742.99 L1761.17,752.09 L1765.14,761.27 L1770.47,775.29 L1772.36,779.91 L1774.11,783.49 L1776.65,787.78 L1778.94,791.04 L1780.84,793.33 L1782.96,795.40 L1784.50,796.61 L1787.02,798.14 L1789.72,799.37 L1792.53,800.34 L1796.40,801.25 L1800.35,801.77 L1806.33,802.10 L1811.32,802.07 L1816.30,801.69 L1822.23,800.82 L1831.06,799.12 L1838.89,797.48 L1845.69,795.83 L1851.47,794.21 L1857.17,792.36 L1862.78,790.23 L1867.34,788.20 L1871.76,785.89 L1875.17,783.81 L1878.40,781.48 L1881.39,778.86 L1882.78,777.43 L1884.70,775.16 L1886.44,772.74 L1887.47,771.04 L1888.84,768.38 L1890.06,765.64 L1892.49,759.09 L1894.12,753.31 L1896.58,742.59 L1900.03,724.93 L1901.11,720.05 L1904.37,707.46 L1905.54,703.64 L1906.88,699.87 L1908.54,696.23 L1911.71,690.00 L1913.69,686.52 L1915.33,684.01 L1917.25,681.72 L1918.78,680.48 L1919.65,680.03 L1920.58,679.78 L1921.54,679.74 L1922.50,679.90 L1924.31,680.67 L1926.71,682.44 L1930.28,685.93 L1931.49,687.52 L1932.53,689.22 L1933.92,691.88 L1938.67,701.80 L1948.89,720.14 L1955.33,732.57 L1961.45,745.17 L1968.30,760.72 L1973.77,772.52 L1976.96,778.74 L1980.04,783.88 L1982.29,787.18 L1984.71,790.34 L1986.73,792.51 L1988.21,793.80 L1989.80,794.94 L1992.37,796.39 L1995.10,797.58 L1998.88,798.84 L2002.75,799.73 L2005.71,800.12 L2009.68,800.30 L2014.67,800.13 L2021.64,799.53 L2030.57,798.42 L2037.48,797.31 L2043.35,796.07 L2049.15,794.54 L2055.82,792.45 L2062.41,790.08 L2068.88,787.43 L2072.48,785.71 L2075.92,783.71 L2079.14,781.38 L2081.34,779.39 L2082.67,777.93 L2083.87,776.37 L2085.90,772.99 L2087.85,768.41 L2090.10,761.78 L2091.18,757.93 L2092.10,754.04 L2098.38,724.71 L2100.16,716.91 L2103.19,706.34 L2106.36,696.85 L2107.85,693.14 L2109.14,690.44 L2111.71,686.15 L2113.94,682.83 L2115.19,681.28 L2116.65,679.94 L2117.48,679.44 L2118.39,679.14 L2119.34,679.07 L2120.30,679.21 L2122.13,679.95 L2123.80,681.03 L2125.36,682.28 L2127.57,684.30 L2128.91,685.78 L2131.10,689.11 L2139.78,706.01 L2158.49,743.61 L2161.82,750.88 L2167.04,762.79 L2172.39,775.73 L2174.48,780.25 L2177.01,784.53 L2180.04,788.48 L2183.49,792.05 L2186.61,794.47 L2188.30,795.48 L2190.07,796.34 L2193.79,797.71 L2199.59,799.17 L2204.52,799.95 L2209.49,800.30 L2214.48,800.22 L2220.45,799.73 L2226.39,798.91 L2233.28,797.67 L2242.08,795.79 L2247.88,794.28 L2252.63,792.72 L2258.20,790.51 L2264.54,787.55 L2270.72,784.30 L2278.23,780.00" fill="none" stroke="#f01010" stroke-width="3.2" stroke-linejoin="round" stroke-linecap="butt" stroke-dasharray="11.9 5.2"/>
<rect x="1287.70" y="656.40" width="1037.70" height="210.90" fill="none" stroke="#262626" stroke-width="2.4"/>
<line x1="1279.40" y1="867.30" x2="1287.70" y2="867.30" stroke="#262626" stroke-width="2.4"/>
<text x="1271.70" y="876.10" font-size="21.5" text-anchor="end">−100</text>
<line x1="1279.40" y1="797.00" x2="1287.70" y2="797.00" stroke="#262626" stroke-width="2.4"/>
<text x="1270.50" y="805.80" font-size="21.5" text-anchor="end">−50</text>
<line x1="1279.40" y1="726.70" x2="1287.70" y2="726.70" stroke="#262626" stroke-width="2.4"/>
<text x="1272.30" y="735.50" font-size="21.5" text-anchor="end">0</text>
<line x1="1279.40" y1="656.40" x2="1287.70" y2="656.40" stroke="#262626" stroke-width="2.4"/>
<text x="1271.20" y="665.20" font-size="21.5" text-anchor="end">50</text>
<line x1="1334.87" y1="867.30" x2="1334.87" y2="875.60" stroke="#262626" stroke-width="2.4"/>
<text x="1333.87" y="897.70" font-size="21.5" text-anchor="middle">0.0</text>
<line x1="1452.79" y1="867.30" x2="1452.79" y2="875.60" stroke="#262626" stroke-width="2.4"/>
<text x="1451.79" y="897.70" font-size="21.5" text-anchor="middle">2.5</text>
<line x1="1570.71" y1="867.30" x2="1570.71" y2="875.60" stroke="#262626" stroke-width="2.4"/>
<text x="1569.71" y="897.70" font-size="21.5" text-anchor="middle">5.0</text>
<line x1="1688.63" y1="867.30" x2="1688.63" y2="875.60" stroke="#262626" stroke-width="2.4"/>
<text x="1687.63" y="897.70" font-size="21.5" text-anchor="middle">7.5</text>
<line x1="1806.55" y1="867.30" x2="1806.55" y2="875.60" stroke="#262626" stroke-width="2.4"/>
<text x="1805.55" y="897.70" font-size="21.5" text-anchor="middle">10.0</text>
<line x1="1924.47" y1="867.30" x2="1924.47" y2="875.60" stroke="#262626" stroke-width="2.4"/>
<text x="1923.47" y="897.70" font-size="21.5" text-anchor="middle">12.5</text>
<line x1="2042.39" y1="867.30" x2="2042.39" y2="875.60" stroke="#262626" stroke-width="2.4"/>
<text x="2041.39" y="897.70" font-size="21.5" text-anchor="middle">15.0</text>
<line x1="2160.31" y1="867.30" x2="2160.31" y2="875.60" stroke="#262626" stroke-width="2.4"/>
<text x="2159.31" y="897.70" font-size="21.5" text-anchor="middle">17.5</text>
<line x1="2278.23" y1="867.30" x2="2278.23" y2="875.60" stroke="#262626" stroke-width="2.4"/>
<text x="2277.23" y="897.70" font-size="21.5" text-anchor="middle">20.0</text>
<text transform="translate(1195.40,762.35) rotate(-90)" font-size="22.0" text-anchor="middle">V (mV)</text>
<text x="1805.05" y="641.75" font-size="26.1" text-anchor="middle">HH + Ca Model with 40 pA</text>
<path d="M167.97,1126.78 L176.95,1126.21 L185.91,1125.38 L195.84,1124.18 L207.72,1122.49 L215.60,1121.16 L222.46,1119.77 L229.27,1118.15 L236.99,1116.07 L242.73,1114.31 L248.35,1112.24 L274.98,1100.75 L282.24,1097.40 L286.70,1095.16 L291.04,1092.69 L295.18,1089.90 L297.53,1088.06 L299.75,1086.06 L301.81,1083.90 L303.07,1082.37 L304.81,1079.95 L306.35,1077.40 L307.71,1074.73 L308.87,1071.98 L309.88,1069.16 L311.04,1065.33 L312.63,1058.52 L313.94,1051.64 L317.48,1029.93 L319.01,1022.08 L319.92,1018.18 L321.28,1014.43 L323.04,1010.85 L324.23,1009.32 L324.99,1008.84 L325.83,1008.72 L326.66,1008.98 L327.42,1009.54 L328.68,1011.05 L331.26,1015.33 L332.49,1018.06 L333.82,1021.83 L336.25,1029.45 L343.26,1054.49 L345.76,1062.09 L348.27,1068.62 L351.05,1075.04 L354.12,1081.33 L357.01,1086.58 L359.64,1090.83 L361.97,1094.05 L364.63,1096.98 L367.67,1099.52 L371.03,1101.58 L373.75,1102.76 L377.55,1103.86 L381.47,1104.52 L384.45,1104.75 L387.43,1104.75 L391.40,1104.44 L395.36,1103.89 L400.28,1103.01 L404.18,1102.15 L409.01,1100.88 L413.80,1099.43 L419.48,1097.51 L424.17,1095.77 L428.79,1093.87 L432.42,1092.21 L436.86,1089.92 L440.32,1087.92 L443.63,1085.70 L445.96,1083.84 L448.75,1081.04 L451.16,1077.89 L453.64,1073.59 L455.65,1069.02 L457.62,1063.36 L459.36,1057.61 L463.63,1040.13 L466.17,1030.46 L467.15,1027.63 L468.01,1025.84 L469.20,1024.28 L469.96,1023.66 L470.81,1023.18 L471.72,1022.90 L472.66,1022.88 L473.57,1023.13 L474.44,1023.57 L475.91,1024.86 L477.02,1026.50 L478.38,1029.17 L480.01,1032.82 L483.36,1041.17 L489.86,1059.03 L493.17,1067.39 L495.30,1071.91 L497.19,1075.44 L499.78,1079.70 L502.03,1083.00 L505.08,1086.96 L508.41,1090.67 L511.33,1093.37 L514.50,1095.77 L517.90,1097.83 L521.50,1099.52 L525.26,1100.75 L529.16,1101.45 L532.13,1101.69 L536.12,1101.72 L540.10,1101.50 L543.08,1101.16 L547.01,1100.49 L561.68,1097.43 L566.53,1096.24 L569.39,1095.36 L573.15,1094.00 L579.53,1091.17 L583.07,1089.31 L586.51,1087.29 L588.99,1085.62 L591.34,1083.78 L594.15,1081.00 L596.57,1077.87 L599.07,1073.57 L601.09,1069.01 L603.09,1063.35 L604.58,1058.58 L607.49,1046.94 L610.89,1034.39 L611.77,1031.53 L612.54,1029.69 L613.53,1027.97 L614.93,1026.61 L615.77,1026.12 L616.68,1025.81 L617.62,1025.75 L618.54,1025.94 L619.42,1026.35 L620.95,1027.57 L622.11,1029.18 L623.52,1031.82 L625.20,1035.45 L628.68,1043.75 L635.08,1060.57 L638.15,1067.96 L640.34,1072.44 L642.29,1075.93 L644.42,1079.32 L646.71,1082.59 L649.81,1086.50 L652.48,1089.46 L655.38,1092.19 L658.52,1094.63 L661.89,1096.74 L665.46,1098.49 L669.19,1099.82 L673.07,1100.65 L676.03,1100.96 L680.02,1101.08 L684.01,1100.94 L687.98,1100.56 L691.92,1099.93 L705.64,1097.19 L711.45,1095.76 L714.28,1094.81 L717.05,1093.69 L719.77,1092.43 L723.31,1090.58 L726.76,1088.57 L730.98,1085.89 L734.27,1083.62 L736.63,1081.79 L739.52,1079.08 L742.05,1076.03 L744.17,1072.67 L746.35,1068.18 L748.14,1063.52 L750.04,1057.83 L753.10,1046.22 L756.65,1033.72 L757.28,1031.82 L758.07,1029.99 L759.10,1028.30 L759.76,1027.58 L760.53,1026.97 L761.38,1026.51 L762.30,1026.23 L763.24,1026.20 L764.17,1026.41 L765.05,1026.83 L766.56,1028.07 L767.71,1029.68 L769.13,1032.32 L770.81,1035.95 L774.30,1044.24 L780.37,1060.12 L783.42,1067.52 L785.59,1072.02 L787.52,1075.52 L789.62,1078.91 L791.89,1082.20 L794.97,1086.13 L797.63,1089.10 L800.50,1091.87 L803.61,1094.34 L806.96,1096.49 L810.51,1098.28 L814.22,1099.67 L817.10,1100.39 L820.05,1100.83 L824.02,1101.07 L828.01,1101.02 L832.98,1100.63 L837.91,1099.85 L850.65,1097.32 L856.47,1095.92 L859.30,1094.97 L862.06,1093.83 L867.40,1091.12 L870.84,1089.09 L875.04,1086.39 L878.33,1084.12 L881.50,1081.70 L883.72,1079.71 L886.39,1076.79 L888.65,1073.52 L890.54,1070.01 L892.48,1065.41 L895.09,1057.85 L899.25,1042.40 L901.74,1033.76 L902.74,1030.93 L903.63,1029.15 L904.84,1027.60 L905.60,1027.00 L906.45,1026.53 L907.37,1026.24 L908.31,1026.19 L909.24,1026.40 L910.12,1026.81 L911.64,1028.04 L912.80,1029.64 L914.22,1032.28 L915.90,1035.91 L919.40,1044.20 L925.46,1060.08 L928.51,1067.48 L931.62,1073.74 L935.26,1079.70 L937.57,1082.96 L940.05,1086.09 L942.71,1089.07 L945.57,1091.84 L948.68,1094.32 L951.17,1095.96 L954.67,1097.85 L957.41,1099.02 L961.20,1100.17 L965.11,1100.82 L969.09,1101.07 L974.07,1100.98 L978.05,1100.63 L982.00,1100.04 L998.65,1096.72 L1001.55,1095.97 L1004.40,1095.06 L1007.19,1093.99 L1010.83,1092.35 L1014.37,1090.50 L1018.68,1087.98 L1022.05,1085.83 L1025.30,1083.51 L1028.32,1080.94 L1030.99,1078.02 L1033.27,1074.77 L1035.18,1071.27 L1037.14,1066.68 L1039.76,1059.12 L1044.13,1042.70 L1046.58,1034.04 L1047.55,1031.21 L1048.40,1029.41 L1049.55,1027.81 L1050.28,1027.16 L1051.11,1026.64 L1052.01,1026.30 L1052.95,1026.18 L1053.89,1026.32 L1054.78,1026.67 L1056.36,1027.83 L1057.56,1029.40 L1058.54,1031.14 L1060.31,1034.72 L1063.86,1042.99 L1070.74,1060.70 L1073.86,1068.06 L1076.11,1072.53 L1078.10,1075.99 L1080.84,1080.16 L1083.22,1083.37 L1086.44,1087.18 L1089.95,1090.71 L1093.03,1093.23 L1096.35,1095.42 L1099.88,1097.26 L1103.57,1098.72 L1107.40,1099.68 L1111.33,1100.23" fill="none" stroke="#00b9b9" stroke-width="3.2" stroke-linejoin="round" stroke-linecap="square"/>
<rect x="120.80" y="960.10" width="1037.70" height="210.30" fill="none" stroke="#262626" stroke-width="2.4"/>
<line x1="112.50" y1="1170.40" x2="120.80" y2="1170.40" stroke="#262626" stroke-width="2.4"/>
<text x="102.50" y="1179.20" font-size="21.5" text-anchor="end">−100</text>
<line x1="112.50" y1="1100.30" x2="120.80" y2="1100.30" stroke="#262626" stroke-width="2.4"/>
<text x="103.20" y="1109.10" font-size="21.5" text-anchor="end">−50</text>
<line x1="112.50" y1="1030.20" x2="120.80" y2="1030.20" stroke="#262626" stroke-width="2.4"/>
<text x="105.10" y="1039.00" font-size="21.5" text-anchor="end">0</text>
<line x1="112.50" y1="960.10" x2="120.80" y2="960.10" stroke="#262626" stroke-width="2.4"/>
<text x="102.50" y="968.90" font-size="21.5" text-anchor="end">50</text>
<line x1="167.97" y1="1170.40" x2="167.97" y2="1178.70" stroke="#262626" stroke-width="2.4"/>
<text x="166.97" y="1200.90" font-size="21.5" text-anchor="middle">0.0</text>
<line x1="285.89" y1="1170.40" x2="285.89" y2="1178.70" stroke="#262626" stroke-width="2.4"/>
<text x="284.89" y="1200.90" font-size="21.5" text-anchor="middle">2.5</text>
<line x1="403.81" y1="1170.40" x2="403.81" y2="1178.70" stroke="#262626" stroke-width="2.4"/>
<text x="402.81" y="1200.90" font-size="21.5" text-anchor="middle">5.0</text>
<line x1="521.73" y1="1170.40" x2="521.73" y2="1178.70" stroke="#262626" stroke-width="2.4"/>
<text x="520.73" y="1200.90" font-size="21.5" text-anchor="middle">7.5</text>
<line x1="639.65" y1="1170.40" x2="639.65" y2="1178.70" stroke="#262626" stroke-width="2.4"/>
<text x="638.65" y="1200.90" font-size="21.5" text-anchor="middle">10.0</text>
<line x1="757.57" y1="1170.40" x2="757.57" y2="1178.70" stroke="#262626" stroke-width="2.4"/>
<text x="756.57" y="1200.90" font-size="21.5" text-anchor="middle">12.5</text>
<line x1="875.49" y1="1170.40" x2="875.49" y2="1178.70" stroke="#262626" stroke-width="2.4"/>
<text x="874.49" y="1200.90" font-size="21.5" text-anchor="middle">15.0</text>
<line x1="993.41" y1="1170.40" x2="993.41" y2="1178.70" stroke="#262626" stroke-width="2.4"/>
<text x="992.41" y="1200.90" font-size="21.5" text-anchor="middle">17.5</text>
<line x1="1111.33" y1="1170.40" x2="1111.33" y2="1178.70" stroke="#262626" stroke-width="2.4"/>
<text x="1110.33" y="1200.90" font-size="21.5" text-anchor="middle">20.0</text>
<text transform="translate(27.70,1065.75) rotate(-90)" font-size="22.0" text-anchor="middle">V (mV)</text>
<text x="638.15" y="945.30" font-size="26.1" text-anchor="middle">HH Model with 50 pA</text>
<path d="M1334.87,1126.11 L1379.44,1114.74 L1388.08,1112.23 L1396.61,1109.37 L1403.16,1106.91 L1409.65,1104.28 L1434.43,1093.56 L1438.01,1091.80 L1441.47,1089.82 L1443.94,1088.15 L1446.27,1086.29 L1447.73,1084.94 L1449.74,1082.75 L1451.56,1080.39 L1453.21,1077.90 L1454.68,1075.30 L1455.97,1072.60 L1458.06,1066.99 L1460.06,1060.28 L1461.20,1055.41 L1467.10,1023.96 L1468.13,1019.07 L1469.47,1014.26 L1471.48,1008.61 L1472.69,1005.86 L1473.63,1004.10 L1476.52,1000.03 L1477.82,998.51 L1479.25,997.13 L1480.92,996.12 L1481.85,995.88 L1482.81,995.87 L1483.76,996.07 L1484.67,996.43 L1486.37,997.46 L1487.93,998.70 L1490.13,1000.74 L1491.42,1002.25 L1492.54,1003.91 L1494.03,1006.51 L1498.08,1014.55 L1504.56,1026.95 L1509.33,1036.86 L1513.23,1046.07 L1523.72,1073.11 L1525.99,1078.66 L1528.03,1083.22 L1530.65,1088.62 L1532.54,1092.13 L1534.13,1094.65 L1536.59,1097.74 L1538.73,1099.79 L1541.92,1102.11 L1544.53,1103.50 L1547.29,1104.53 L1550.17,1105.26 L1554.11,1105.91 L1559.07,1106.42 L1563.06,1106.63 L1567.05,1106.61 L1571.03,1106.33 L1574.99,1105.81 L1580.89,1104.73 L1592.62,1102.21 L1604.28,1099.39 L1611.02,1097.48 L1616.74,1095.68 L1623.36,1093.42 L1628.98,1091.31 L1632.62,1089.69 L1635.23,1088.26 L1637.68,1086.59 L1639.90,1084.64 L1641.23,1083.19 L1642.43,1081.63 L1645.02,1077.40 L1647.15,1072.89 L1648.85,1068.20 L1650.36,1062.40 L1652.48,1052.62 L1655.57,1034.89 L1656.77,1029.01 L1658.23,1023.19 L1659.85,1017.42 L1661.36,1012.65 L1663.05,1007.95 L1666.58,999.67 L1667.95,997.00 L1669.57,994.49 L1671.47,992.17 L1673.55,990.01 L1675.17,988.91 L1676.07,988.60 L1677.03,988.51 L1677.99,988.64 L1679.82,989.35 L1681.50,990.42 L1683.82,992.32 L1686.64,995.14 L1687.82,996.75 L1689.37,999.31 L1696.05,1012.74 L1704.43,1027.53 L1708.13,1034.62 L1710.66,1040.06 L1721.86,1065.73 L1729.24,1082.14 L1731.46,1086.61 L1733.55,1089.97 L1735.40,1092.30 L1738.19,1095.12 L1741.30,1097.57 L1743.84,1099.09 L1746.54,1100.26 L1749.38,1101.11 L1752.31,1101.71 L1756.26,1102.25 L1760.24,1102.57 L1764.23,1102.66 L1768.22,1102.53 L1773.20,1102.12 L1779.15,1101.34 L1786.05,1100.16 L1790.93,1099.12 L1794.78,1098.07 L1798.56,1096.78 L1803.17,1094.87 L1808.60,1092.31 L1813.02,1089.99 L1816.44,1087.93 L1818.90,1086.23 L1821.99,1083.72 L1824.12,1081.64 L1827.28,1077.81 L1829.96,1073.61 L1832.65,1068.26 L1834.42,1063.59 L1836.41,1056.89 L1839.12,1046.22 L1842.32,1029.53 L1843.43,1024.66 L1846.22,1015.06 L1847.85,1010.33 L1849.32,1006.61 L1853.86,996.59 L1855.28,993.95 L1856.93,991.45 L1858.29,990.01 L1859.91,988.87 L1861.68,987.96 L1863.58,987.42 L1864.55,987.36 L1866.47,987.72 L1868.25,988.59 L1869.88,989.73 L1872.15,991.70 L1874.98,994.52 L1876.21,996.08 L1877.81,998.62 L1879.70,1002.14 L1885.03,1012.90 L1894.77,1030.36 L1901.23,1042.78 L1906.44,1053.59 L1912.47,1067.32 L1918.67,1080.98 L1920.47,1084.54 L1922.55,1087.92 L1924.36,1090.29 L1926.36,1092.49 L1928.56,1094.49 L1930.95,1096.21 L1932.67,1097.15 L1935.40,1098.26 L1938.26,1099.06 L1942.17,1099.84 L1947.11,1100.50 L1951.10,1100.80 L1955.09,1100.88 L1960.08,1100.69 L1965.05,1100.20 L1970.98,1099.33 L1976.88,1098.24 L1981.74,1097.10 L1985.56,1095.94 L1989.29,1094.52 L1992.92,1092.87 L1996.44,1090.99 L1999.85,1088.91 L2003.13,1086.64 L2006.22,1084.13 L2008.34,1082.04 L2011.47,1078.18 L2014.17,1073.99 L2016.49,1069.57 L2018.37,1064.95 L2020.12,1059.21 L2023.74,1045.69 L2028.53,1026.27 L2032.32,1013.84 L2035.04,1006.32 L2036.27,1003.59 L2039.54,997.39 L2041.50,993.91 L2043.10,991.37 L2044.29,989.77 L2045.63,988.30 L2047.23,987.17 L2048.14,986.84 L2049.09,986.73 L2050.05,986.84 L2050.98,987.14 L2052.71,988.09 L2054.29,989.31 L2056.46,991.37 L2059.20,994.28 L2060.44,995.85 L2062.05,998.38 L2063.96,1001.89 L2069.32,1012.62 L2078.59,1029.21 L2082.80,1037.16 L2097.53,1066.69 L2099.66,1071.22 L2104.03,1081.30 L2105.37,1083.98 L2106.89,1086.53 L2108.04,1088.15 L2109.95,1090.42 L2112.07,1092.51 L2114.36,1094.41 L2116.83,1096.05 L2118.57,1096.97 L2120.38,1097.76 L2123.20,1098.69 L2128.06,1099.80 L2132.99,1100.52 L2136.97,1100.82 L2141.96,1100.85 L2146.95,1100.57 L2152.91,1099.94 L2159.83,1098.90 L2165.71,1097.73 L2169.56,1096.67 L2172.37,1095.68 L2176.02,1094.08 L2179.54,1092.20 L2182.94,1090.10 L2187.01,1087.21 L2190.09,1084.68 L2192.24,1082.62 L2194.85,1079.62 L2197.71,1075.54 L2200.15,1071.19 L2202.13,1066.62 L2203.06,1063.77 L2204.37,1058.94 L2213.33,1022.02 L2215.49,1015.36 L2218.40,1007.91 L2220.04,1004.27 L2221.89,1000.72 L2226.74,993.14 L2228.51,990.72 L2229.84,989.24 L2231.38,988.02 L2232.26,987.62 L2233.19,987.45 L2234.13,987.54 L2235.03,987.87 L2236.64,989.00 L2238.05,990.40 L2241.34,994.17 L2243.75,997.35 L2245.89,1000.73 L2251.38,1010.26 L2278.23,1055.00" fill="none" stroke="#00b9b9" stroke-width="3.2" stroke-linejoin="round" stroke-linecap="butt" stroke-dasharray="11.9 5.2"/>
<rect x="1287.70" y="960.10" width="1037.70" height="210.30" fill="none" stroke="#262626" stroke-width="2.4"/>
<line x1="1279.40" y1="1170.40" x2="1287.70" y2="1170.40" stroke="#262626" stroke-width="2.4"/>
<text x="1271.70" y="1179.20" font-size="21.5" text-anchor="end">−100</text>
<line x1="1279.40" y1="1100.30" x2="1287.70" y2="1100.30" stroke="#262626" stroke-width="2.4"/>
<text x="1270.50" y="1109.10" font-size="21.5" text-anchor="end">−50</text>
<line x1="1279.40" y1="1030.20" x2="1287.70" y2="1030.20" stroke="#262626" stroke-width="2.4"/>
<text x="1272.30" y="1039.00" font-size="21.5" text-anchor="end">0</text>
<line x1="1279.40" y1="960.10" x2="1287.70" y2="960.10" stroke="#262626" stroke-width="2.4"/>
<text x="1271.20" y="968.90" font-size="21.5" text-anchor="end">50</text>
<line x1="1334.87" y1="1170.40" x2="1334.87" y2="1178.70" stroke="#262626" stroke-width="2.4"/>
<text x="1333.87" y="1200.90" font-size="21.5" text-anchor="middle">0.0</text>
<line x1="1452.79" y1="1170.40" x2="1452.79" y2="1178.70" stroke="#262626" stroke-width="2.4"/>
<text x="1451.79" y="1200.90" font-size="21.5" text-anchor="middle">2.5</text>
<line x1="1570.71" y1="1170.40" x2="1570.71" y2="1178.70" stroke="#262626" stroke-width="2.4"/>
<text x="1569.71" y="1200.90" font-size="21.5" text-anchor="middle">5.0</text>
<line x1="1688.63" y1="1170.40" x2="1688.63" y2="1178.70" stroke="#262626" stroke-width="2.4"/>
<text x="1687.63" y="1200.90" font-size="21.5" text-anchor="middle">7.5</text>
<line x1="1806.55" y1="1170.40" x2="1806.55" y2="1178.70" stroke="#262626" stroke-width="2.4"/>
<text x="1805.55" y="1200.90" font-size="21.5" text-anchor="middle">10.0</text>
<line x1="1924.47" y1="1170.40" x2="1924.47" y2="1178.70" stroke="#262626" stroke-width="2.4"/>
<text x="1923.47" y="1200.90" font-size="21.5" text-anchor="middle">12.5</text>
<line x1="2042.39" y1="1170.40" x2="2042.39" y2="1178.70" stroke="#262626" stroke-width="2.4"/>
<text x="2041.39" y="1200.90" font-size="21.5" text-anchor="middle">15.0</text>
<line x1="2160.31" y1="1170.40" x2="2160.31" y2="1178.70" stroke="#262626" stroke-width="2.4"/>
<text x="2159.31" y="1200.90" font-size="21.5" text-anchor="middle">17.5</text>
<line x1="2278.23" y1="1170.40" x2="2278.23" y2="1178.70" stroke="#262626" stroke-width="2.4"/>
<text x="2277.23" y="1200.90" font-size="21.5" text-anchor="middle">20.0</text>
<text transform="translate(1195.40,1065.75) rotate(-90)" font-size="22.0" text-anchor="middle">V (mV)</text>
<text x="1805.05" y="945.30" font-size="26.1" text-anchor="middle">HH + Ca Model with 50 pA</text>
<path d="M167.97,1430.33 L176.93,1429.51 L184.87,1428.57 L193.78,1427.30 L203.65,1425.69 L212.51,1424.08 L220.34,1422.45 L227.14,1420.82 L233.89,1418.95 L238.66,1417.46 L243.34,1415.74 L252.52,1411.79 L264.58,1406.95 L270.08,1404.54 L274.58,1402.39 L278.99,1400.03 L283.22,1397.39 L286.45,1395.05 L288.73,1393.12 L290.87,1391.04 L292.83,1388.79 L294.03,1387.21 L295.65,1384.71 L297.09,1382.09 L298.34,1379.38 L299.42,1376.59 L301.15,1370.85 L302.61,1364.01 L303.64,1358.10 L305.44,1345.23 L306.85,1336.34 L308.66,1326.50 L309.71,1321.62 L310.66,1318.78 L312.06,1316.14 L313.25,1314.57 L313.99,1313.99 L314.82,1313.71 L315.68,1313.80 L316.48,1314.23 L317.83,1315.63 L320.01,1318.98 L321.30,1321.68 L322.64,1325.45 L325.34,1334.03 L332.07,1358.11 L334.21,1364.77 L336.68,1371.32 L339.41,1377.77 L342.40,1384.09 L344.77,1388.48 L347.43,1392.70 L349.81,1395.90 L352.49,1398.83 L355.52,1401.37 L358.88,1403.45 L361.58,1404.64 L365.38,1405.73 L369.31,1406.30 L372.28,1406.45 L375.27,1406.39 L379.25,1406.04 L383.21,1405.52 L388.13,1404.67 L392.04,1403.81 L395.90,1402.81 L399.72,1401.63 L403.46,1400.23 L407.10,1398.59 L416.83,1393.48 L422.01,1390.49 L424.42,1388.76 L425.91,1387.46 L427.99,1385.34 L430.46,1382.22 L432.62,1378.88 L434.46,1375.34 L436.75,1369.80 L439.01,1363.18 L443.08,1347.71 L445.07,1341.00 L446.06,1338.17 L447.65,1334.51 L448.73,1332.85 L450.19,1331.55 L451.05,1331.11 L451.97,1330.87 L452.92,1330.88 L453.85,1331.13 L454.73,1331.55 L456.31,1332.72 L457.54,1334.27 L458.99,1336.89 L460.65,1340.52 L462.44,1345.19 L469.30,1365.04 L471.87,1371.55 L473.99,1376.07 L476.35,1380.47 L478.97,1384.73 L481.26,1387.99 L483.78,1391.07 L486.57,1393.92 L489.62,1396.47 L492.94,1398.64 L496.50,1400.37 L499.31,1401.34 L503.18,1402.20 L507.13,1402.67 L512.11,1402.81 L518.08,1402.36 L523.99,1401.39 L529.80,1399.92 L538.32,1397.07 L547.71,1393.63 L552.36,1391.79 L555.09,1390.57 L557.74,1389.21 L560.25,1387.62 L561.83,1386.42 L564.02,1384.42 L566.64,1381.44 L568.94,1378.19 L570.89,1374.71 L572.94,1370.16 L575.06,1364.55 L576.27,1360.74 L579.54,1349.20 L581.42,1343.50 L582.53,1340.71 L583.84,1338.02 L584.98,1336.41 L586.51,1335.20 L587.40,1334.80 L588.33,1334.62 L589.29,1334.67 L590.22,1334.93 L591.93,1335.89 L593.34,1337.26 L594.93,1339.79 L596.30,1342.46 L598.25,1347.06 L605.51,1366.76 L608.23,1373.21 L610.48,1377.67 L612.47,1381.14 L615.18,1385.32 L617.57,1388.52 L620.20,1391.51 L623.09,1394.25 L626.24,1396.67 L628.77,1398.23 L632.35,1399.93 L635.17,1400.89 L639.04,1401.75 L643.00,1402.22 L645.98,1402.38 L648.98,1402.36 L654.94,1401.88 L661.83,1400.70 L668.59,1398.91 L672.38,1397.66 L676.13,1396.26 L685.29,1392.27 L690.71,1389.71 L693.35,1388.32 L695.88,1386.75 L697.46,1385.57 L700.36,1382.87 L702.94,1379.85 L705.17,1376.55 L707.48,1372.13 L709.43,1367.54 L711.15,1362.84 L714.21,1352.28 L716.71,1344.68 L717.79,1341.88 L719.07,1339.17 L720.13,1337.50 L721.56,1336.16 L722.40,1335.68 L723.32,1335.36 L724.26,1335.27 L725.21,1335.41 L726.13,1335.74 L727.80,1336.78 L729.14,1338.22 L730.70,1340.78 L732.05,1343.46 L733.99,1348.06 L741.31,1367.74 L743.67,1373.26 L745.93,1377.71 L747.92,1381.18 L750.08,1384.54 L752.42,1387.77 L754.99,1390.81 L757.82,1393.61 L760.91,1396.11 L763.40,1397.75 L766.93,1399.55 L769.71,1400.60 L772.59,1401.37 L776.51,1402.02 L779.49,1402.29 L782.48,1402.39 L785.47,1402.33 L789.45,1402.01 L796.35,1400.93 L803.13,1399.24 L806.95,1398.05 L810.71,1396.70 L815.33,1394.80 L819.89,1392.76 L827.98,1388.84 L830.52,1387.31 L832.90,1385.53 L835.08,1383.51 L837.69,1380.52 L839.43,1378.09 L841.44,1374.66 L843.54,1370.13 L845.72,1364.54 L846.95,1360.74 L850.00,1350.17 L851.90,1344.48 L852.99,1341.69 L854.29,1338.98 L855.38,1337.33 L856.85,1336.04 L857.71,1335.59 L858.64,1335.32 L859.59,1335.28 L860.53,1335.47 L861.44,1335.84 L863.08,1336.92 L864.38,1338.40 L865.91,1340.98 L867.25,1343.66 L869.18,1348.27 L876.14,1367.02 L878.46,1372.55 L880.67,1377.03 L882.63,1380.51 L884.76,1383.89 L887.06,1387.15 L889.59,1390.24 L892.36,1393.09 L895.40,1395.65 L897.85,1397.34 L900.45,1398.80 L903.16,1400.01 L905.99,1400.94 L909.87,1401.78 L912.83,1402.15 L915.82,1402.35 L918.81,1402.39 L922.79,1402.18 L926.76,1401.73 L930.70,1401.08 L937.50,1399.46 L944.15,1397.30 L950.59,1394.59 L963.14,1388.42 L965.71,1386.92 L968.12,1385.19 L970.34,1383.22 L973.01,1380.28 L974.78,1377.88 L976.85,1374.47 L978.99,1369.96 L981.20,1364.39 L982.46,1360.59 L985.54,1350.03 L987.46,1344.35 L988.57,1341.56 L989.88,1338.87 L990.99,1337.24 L992.49,1335.98 L993.36,1335.55 L994.29,1335.30 L995.25,1335.29 L996.19,1335.50 L997.09,1335.88 L998.72,1336.99 L1000.00,1338.49 L1001.52,1341.07 L1002.85,1343.76 L1004.77,1348.37 L1011.74,1367.12 L1013.65,1371.74 L1015.36,1375.35 L1017.24,1378.88 L1020.93,1384.81 L1023.29,1388.03 L1025.21,1390.32 L1027.28,1392.48 L1029.49,1394.48 L1031.85,1396.30 L1034.35,1397.91 L1036.99,1399.28 L1038.82,1400.05 L1041.65,1400.97 L1045.53,1401.80 L1049.49,1402.24 L1054.47,1402.38 L1059.45,1402.08 L1064.40,1401.42 L1069.29,1400.44 L1074.12,1399.15 L1077.92,1397.93 L1081.65,1396.50 L1085.28,1394.84 L1088.82,1393.00 L1094.01,1390.00 L1100.81,1385.78 L1105.79,1382.47 L1111.33,1378.56" fill="none" stroke="#ba00ba" stroke-width="3.2" stroke-linejoin="round" stroke-linecap="square"/>
<rect x="120.80" y="1263.60" width="1037.70" height="210.70" fill="none" stroke="#262626" stroke-width="2.4"/>
<line x1="112.50" y1="1474.30" x2="120.80" y2="1474.30" stroke="#262626" stroke-width="2.4"/>
<text x="102.50" y="1483.10" font-size="21.5" text-anchor="end">−100</text>
<line x1="112.50" y1="1404.07" x2="120.80" y2="1404.07" stroke="#262626" stroke-width="2.4"/>
<text x="103.20" y="1412.87" font-size="21.5" text-anchor="end">−50</text>
<line x1="112.50" y1="1333.83" x2="120.80" y2="1333.83" stroke="#262626" stroke-width="2.4"/>
<text x="105.10" y="1342.63" font-size="21.5" text-anchor="end">0</text>
<line x1="112.50" y1="1263.60" x2="120.80" y2="1263.60" stroke="#262626" stroke-width="2.4"/>
<text x="102.50" y="1272.40" font-size="21.5" text-anchor="end">50</text>
<line x1="167.97" y1="1474.30" x2="167.97" y2="1482.60" stroke="#262626" stroke-width="2.4"/>
<text x="166.97" y="1504.70" font-size="21.5" text-anchor="middle">0.0</text>
<line x1="285.89" y1="1474.30" x2="285.89" y2="1482.60" stroke="#262626" stroke-width="2.4"/>
<text x="284.89" y="1504.70" font-size="21.5" text-anchor="middle">2.5</text>
<line x1="403.81" y1="1474.30" x2="403.81" y2="1482.60" stroke="#262626" stroke-width="2.4"/>
<text x="402.81" y="1504.70" font-size="21.5" text-anchor="middle">5.0</text>
<line x1="521.73" y1="1474.30" x2="521.73" y2="1482.60" stroke="#262626" stroke-width="2.4"/>
<text x="520.73" y="1504.70" font-size="21.5" text-anchor="middle">7.5</text>
<line x1="639.65" y1="1474.30" x2="639.65" y2="1482.60" stroke="#262626" stroke-width="2.4"/>
<text x="638.65" y="1504.70" font-size="21.5" text-anchor="middle">10.0</text>
<line x1="757.57" y1="1474.30" x2="757.57" y2="1482.60" stroke="#262626" stroke-width="2.4"/>
<text x="756.57" y="1504.70" font-size="21.5" text-anchor="middle">12.5</text>
<line x1="875.49" y1="1474.30" x2="875.49" y2="1482.60" stroke="#262626" stroke-width="2.4"/>
<text x="874.49" y="1504.70" font-size="21.5" text-anchor="middle">15.0</text>
<line x1="993.41" y1="1474.30" x2="993.41" y2="1482.60" stroke="#262626" stroke-width="2.4"/>
<text x="992.41" y="1504.70" font-size="21.5" text-anchor="middle">17.5</text>
<line x1="1111.33" y1="1474.30" x2="1111.33" y2="1482.60" stroke="#262626" stroke-width="2.4"/>
<text x="1110.33" y="1504.70" font-size="21.5" text-anchor="middle">20.0</text>
<text transform="translate(27.70,1369.45) rotate(-90)" font-size="22.0" text-anchor="middle">V (mV)</text>
<text x="638.15" y="1248.65" font-size="26.1" text-anchor="middle">HH Model with 60 pA</text>
<text x="637.45" y="1538.00" font-size="21.5" text-anchor="middle">Time (ms)</text>
<path d="M1334.87,1430.00 L1352.09,1424.77 L1376.87,1416.89 L1388.18,1412.89 L1399.32,1408.44 L1404.82,1406.04 L1410.24,1403.47 L1415.56,1400.71 L1420.79,1397.76 L1425.06,1395.16 L1428.36,1392.92 L1431.49,1390.46 L1433.69,1388.44 L1435.73,1386.26 L1436.98,1384.72 L1439.72,1380.58 L1441.11,1377.93 L1442.35,1375.21 L1443.84,1371.50 L1445.16,1367.73 L1446.74,1361.94 L1448.89,1352.18 L1451.81,1334.42 L1453.41,1326.58 L1455.28,1318.80 L1456.84,1314.05 L1459.29,1308.58 L1460.29,1306.86 L1461.49,1305.27 L1462.95,1303.92 L1465.43,1302.25 L1467.25,1301.48 L1468.21,1301.29 L1469.18,1301.26 L1471.09,1301.69 L1472.85,1302.61 L1475.26,1304.39 L1476.76,1305.70 L1478.09,1307.18 L1479.24,1308.82 L1480.74,1311.41 L1487.38,1324.86 L1491.83,1334.92 L1497.58,1348.77 L1509.23,1378.57 L1512.85,1386.81 L1515.92,1393.09 L1517.91,1396.54 L1519.04,1398.15 L1520.30,1399.66 L1521.69,1401.04 L1523.20,1402.30 L1525.67,1403.94 L1528.30,1405.29 L1531.07,1406.31 L1533.96,1406.98 L1536.91,1407.36 L1541.89,1407.64 L1546.88,1407.69 L1551.87,1407.48 L1556.83,1406.93 L1561.76,1406.10 L1569.60,1404.50 L1575.43,1403.11 L1580.24,1401.75 L1584.99,1400.19 L1589.67,1398.45 L1594.29,1396.55 L1598.85,1394.49 L1602.40,1392.68 L1604.98,1391.16 L1607.44,1389.47 L1609.73,1387.58 L1611.80,1385.46 L1613.60,1383.12 L1615.16,1380.58 L1616.49,1377.91 L1618.05,1374.24 L1620.38,1367.64 L1623.48,1356.05 L1626.87,1340.42 L1628.61,1333.64 L1631.84,1323.12 L1636.31,1310.92 L1637.87,1307.23 L1639.24,1304.57 L1640.33,1302.90 L1642.71,1299.68 L1644.66,1297.41 L1646.15,1296.10 L1646.99,1295.58 L1647.89,1295.22 L1648.84,1295.06 L1649.80,1295.10 L1650.76,1295.31 L1652.58,1296.10 L1654.27,1297.15 L1656.67,1298.95 L1658.75,1301.09 L1659.92,1302.70 L1661.51,1305.25 L1666.78,1314.90 L1675.15,1329.70 L1682.60,1343.86 L1688.71,1356.45 L1694.74,1370.19 L1700.93,1383.85 L1702.74,1387.40 L1704.83,1390.78 L1706.64,1393.15 L1708.65,1395.34 L1710.84,1397.34 L1712.42,1398.51 L1714.10,1399.53 L1716.78,1400.72 L1719.61,1401.57 L1722.53,1402.17 L1727.47,1402.85 L1731.46,1403.14 L1735.45,1403.19 L1739.43,1402.98 L1743.40,1402.54 L1748.33,1401.73 L1754.20,1400.51 L1759.04,1399.27 L1762.84,1398.05 L1766.56,1396.59 L1770.18,1394.91 L1773.71,1393.04 L1777.13,1390.98 L1780.41,1388.72 L1783.48,1386.18 L1785.60,1384.09 L1788.79,1380.27 L1790.47,1377.80 L1791.48,1376.08 L1793.62,1371.58 L1795.75,1365.97 L1797.02,1362.18 L1798.08,1358.33 L1801.54,1343.73 L1803.87,1332.98 L1805.00,1329.15 L1805.92,1327.41 L1806.54,1326.64 L1809.43,1323.91 L1810.55,1322.28 L1812.07,1318.59 L1814.83,1310.03 L1815.89,1307.22 L1817.25,1304.55 L1819.77,1300.24 L1821.40,1297.72 L1823.27,1295.38 L1824.78,1294.13 L1825.66,1293.72 L1826.59,1293.51 L1827.56,1293.52 L1829.47,1294.00 L1831.26,1294.86 L1832.94,1295.94 L1836.81,1299.09 L1838.14,1300.57 L1839.27,1302.21 L1841.22,1305.70 L1845.57,1314.71 L1847.43,1318.25 L1850.01,1322.53 L1856.50,1332.62 L1859.51,1337.81 L1862.26,1343.14 L1875.99,1370.93 L1881.14,1380.65 L1883.19,1384.08 L1884.87,1386.55 L1887.35,1389.67 L1889.37,1391.87 L1892.31,1394.54 L1894.70,1396.29 L1897.27,1397.79 L1899.97,1399.05 L1903.70,1400.43 L1906.58,1401.21 L1909.50,1401.74 L1912.47,1401.98 L1915.45,1401.96 L1919.43,1401.65 L1924.37,1400.93 L1929.28,1399.99 L1934.15,1398.87 L1938.94,1397.48 L1941.75,1396.46 L1945.42,1394.89 L1948.99,1393.10 L1952.45,1391.10 L1955.75,1388.88 L1958.09,1387.02 L1960.28,1385.00 L1962.31,1382.81 L1965.34,1378.87 L1967.37,1375.44 L1969.45,1370.91 L1971.54,1365.29 L1973.30,1359.55 L1976.57,1345.94 L1980.99,1329.53 L1985.03,1317.17 L1987.89,1309.70 L1989.20,1307.00 L1990.72,1304.42 L1993.43,1300.22 L1995.80,1297.00 L1997.14,1295.53 L1998.69,1294.29 L1999.55,1293.84 L2000.48,1293.56 L2001.45,1293.48 L2002.42,1293.58 L2004.31,1294.17 L2006.08,1295.08 L2008.57,1296.74 L2010.16,1297.96 L2011.60,1299.33 L2014.04,1302.49 L2016.15,1305.88 L2023.18,1317.99 L2032.34,1334.63 L2039.93,1346.39 L2042.97,1351.57 L2045.61,1356.95 L2050.73,1368.90 L2056.07,1380.75 L2057.84,1384.33 L2059.31,1386.92 L2060.99,1389.39 L2062.22,1390.94 L2064.25,1393.12 L2065.70,1394.47 L2068.87,1396.81 L2070.58,1397.77 L2072.38,1398.58 L2076.15,1399.80 L2080.04,1400.65 L2083.99,1401.19 L2087.97,1401.40 L2091.96,1401.32 L2096.94,1400.92 L2102.88,1400.11 L2108.78,1399.04 L2112.65,1398.10 L2115.51,1397.21 L2119.23,1395.77 L2122.84,1394.07 L2126.33,1392.14 L2129.68,1389.98 L2132.82,1387.54 L2134.98,1385.49 L2138.21,1381.71 L2140.97,1377.57 L2143.26,1373.14 L2145.58,1367.61 L2147.45,1361.91 L2149.75,1353.21 L2150.89,1348.34 L2153.35,1336.60 L2154.88,1330.80 L2156.44,1326.05 L2158.19,1321.37 L2164.11,1307.58 L2165.42,1304.89 L2166.94,1302.30 L2168.14,1300.71 L2170.10,1298.45 L2172.21,1296.32 L2173.79,1295.11 L2175.58,1294.31 L2176.54,1294.14 L2178.49,1294.30 L2180.39,1294.90 L2182.19,1295.75 L2184.76,1297.29 L2186.35,1298.48 L2187.74,1299.91 L2190.06,1303.16 L2195.58,1312.67 L2204.19,1326.15 L2208.71,1333.94 L2225.63,1367.96 L2230.77,1378.80 L2232.65,1382.32 L2234.72,1385.74 L2236.98,1389.03 L2238.80,1391.39 L2240.78,1393.61 L2242.21,1394.96 L2243.76,1396.16 L2245.42,1397.19 L2247.18,1398.05 L2250.90,1399.37 L2255.76,1400.45 L2260.71,1400.95 L2265.70,1401.03 L2271.65,1400.75 L2278.23,1400.00" fill="none" stroke="#ba00ba" stroke-width="3.2" stroke-linejoin="round" stroke-linecap="butt" stroke-dasharray="11.9 5.2"/>
<rect x="1287.70" y="1263.60" width="1037.70" height="210.70" fill="none" stroke="#262626" stroke-width="2.4"/>
<line x1="1279.40" y1="1474.30" x2="1287.70" y2="1474.30" stroke="#262626" stroke-width="2.4"/>
<text x="1271.70" y="1483.10" font-size="21.5" text-anchor="end">−100</text>
<line x1="1279.40" y1="1404.07" x2="1287.70" y2="1404.07" stroke="#262626" stroke-width="2.4"/>
<text x="1270.50" y="1412.87" font-size="21.5" text-anchor="end">−50</text>
<line x1="1279.40" y1="1333.83" x2="1287.70" y2="1333.83" stroke="#262626" stroke-width="2.4"/>
<text x="1272.30" y="1342.63" font-size="21.5" text-anchor="end">0</text>
<line x1="1279.40" y1="1263.60" x2="1287.70" y2="1263.60" stroke="#262626" stroke-width="2.4"/>
<text x="1271.20" y="1272.40" font-size="21.5" text-anchor="end">50</text>
<line x1="1334.87" y1="1474.30" x2="1334.87" y2="1482.60" stroke="#262626" stroke-width="2.4"/>
<text x="1333.87" y="1504.70" font-size="21.5" text-anchor="middle">0.0</text>
<line x1="1452.79" y1="1474.30" x2="1452.79" y2="1482.60" stroke="#262626" stroke-width="2.4"/>
<text x="1451.79" y="1504.70" font-size="21.5" text-anchor="middle">2.5</text>
<line x1="1570.71" y1="1474.30" x2="1570.71" y2="1482.60" stroke="#262626" stroke-width="2.4"/>
<text x="1569.71" y="1504.70" font-size="21.5" text-anchor="middle">5.0</text>
<line x1="1688.63" y1="1474.30" x2="1688.63" y2="1482.60" stroke="#262626" stroke-width="2.4"/>
<text x="1687.63" y="1504.70" font-size="21.5" text-anchor="middle">7.5</text>
<line x1="1806.55" y1="1474.30" x2="1806.55" y2="1482.60" stroke="#262626" stroke-width="2.4"/>
<text x="1805.55" y="1504.70" font-size="21.5" text-anchor="middle">10.0</text>
<line x1="1924.47" y1="1474.30" x2="1924.47" y2="1482.60" stroke="#262626" stroke-width="2.4"/>
<text x="1923.47" y="1504.70" font-size="21.5" text-anchor="middle">12.5</text>
<line x1="2042.39" y1="1474.30" x2="2042.39" y2="1482.60" stroke="#262626" stroke-width="2.4"/>
<text x="2041.39" y="1504.70" font-size="21.5" text-anchor="middle">15.0</text>
<line x1="2160.31" y1="1474.30" x2="2160.31" y2="1482.60" stroke="#262626" stroke-width="2.4"/>
<text x="2159.31" y="1504.70" font-size="21.5" text-anchor="middle">17.5</text>
<line x1="2278.23" y1="1474.30" x2="2278.23" y2="1482.60" stroke="#262626" stroke-width="2.4"/>
<text x="2277.23" y="1504.70" font-size="21.5" text-anchor="middle">20.0</text>
<text transform="translate(1195.40,1369.45) rotate(-90)" font-size="22.0" text-anchor="middle">V (mV)</text>
<text x="1805.05" y="1248.65" font-size="26.1" text-anchor="middle">HH + Ca Model with 60 pA</text>
<text x="1804.35" y="1538.00" font-size="21.5" text-anchor="middle">Time (ms)</text>
</svg></body></html>
